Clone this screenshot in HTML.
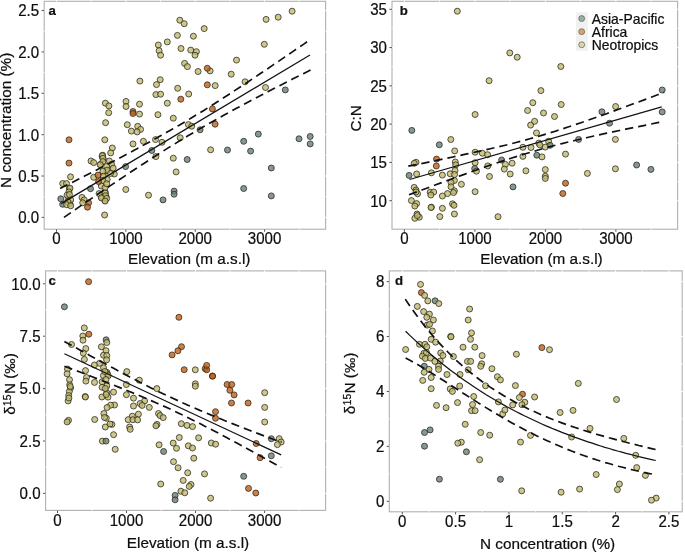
<!DOCTYPE html>
<html><head><meta charset="utf-8"><title>Figure</title>
<style>
html,body{margin:0;padding:0;background:#fff;overflow:hidden;}
svg{display:block;font-family:"Liberation Sans",sans-serif;}
text{stroke:#0d0d0d;stroke-width:0.22px;}
</style></head><body>
<svg width="685" height="553" viewBox="0 0 685 553">
<rect width="685" height="553" fill="#fff"/>
<rect x="44.2" y="1.3" width="281.4" height="227.9" fill="#fff" stroke="#b0b0b0" stroke-width="1.1"/>
<line x1="56.5" y1="0.30000000000000004" x2="56.5" y2="229.79999999999998" stroke="#fff" stroke-width="0.9"/>
<line x1="125.87" y1="0.30000000000000004" x2="125.87" y2="229.79999999999998" stroke="#fff" stroke-width="0.9"/>
<line x1="195.24" y1="0.30000000000000004" x2="195.24" y2="229.79999999999998" stroke="#fff" stroke-width="0.9"/>
<line x1="264.61" y1="0.30000000000000004" x2="264.61" y2="229.79999999999998" stroke="#fff" stroke-width="0.9"/>
<line x1="43.6" y1="217.4" x2="326.6" y2="217.4" stroke="#fff" stroke-width="0.9"/>
<line x1="43.6" y1="176.025" x2="326.6" y2="176.025" stroke="#fff" stroke-width="0.9"/>
<line x1="43.6" y1="134.65" x2="326.6" y2="134.65" stroke="#fff" stroke-width="0.9"/>
<line x1="43.6" y1="93.275" x2="326.6" y2="93.275" stroke="#fff" stroke-width="0.9"/>
<line x1="43.6" y1="51.900000000000006" x2="326.6" y2="51.900000000000006" stroke="#fff" stroke-width="0.9"/>
<line x1="43.6" y1="10.525000000000006" x2="326.6" y2="10.525000000000006" stroke="#fff" stroke-width="0.9"/>
<line x1="91.2" y1="0.30000000000000004" x2="91.2" y2="229.79999999999998" stroke="#fff" stroke-width="0.7"/>
<line x1="160.6" y1="0.30000000000000004" x2="160.6" y2="229.79999999999998" stroke="#fff" stroke-width="0.7"/>
<line x1="229.9" y1="0.30000000000000004" x2="229.9" y2="229.79999999999998" stroke="#fff" stroke-width="0.7"/>
<line x1="299.3" y1="0.30000000000000004" x2="299.3" y2="229.79999999999998" stroke="#fff" stroke-width="0.7"/>
<line x1="43.6" y1="196.7" x2="326.6" y2="196.7" stroke="#fff" stroke-width="0.7"/>
<line x1="43.6" y1="155.3" x2="326.6" y2="155.3" stroke="#fff" stroke-width="0.7"/>
<line x1="43.6" y1="114.0" x2="326.6" y2="114.0" stroke="#fff" stroke-width="0.7"/>
<line x1="43.6" y1="72.6" x2="326.6" y2="72.6" stroke="#fff" stroke-width="0.7"/>
<line x1="43.6" y1="31.2" x2="326.6" y2="31.2" stroke="#fff" stroke-width="0.7"/>
<line x1="56.5" y1="229.2" x2="56.5" y2="231.79999999999998" stroke="#444" stroke-width="0.9"/>
<text transform="translate(56.5 244.4) scale(0.92 1)" font-size="16.4" text-anchor="middle" fill="#0d0d0d">0</text>
<line x1="125.87" y1="229.2" x2="125.87" y2="231.79999999999998" stroke="#444" stroke-width="0.9"/>
<text transform="translate(125.9 244.4) scale(0.92 1)" font-size="16.4" text-anchor="middle" fill="#0d0d0d">1000</text>
<line x1="195.24" y1="229.2" x2="195.24" y2="231.79999999999998" stroke="#444" stroke-width="0.9"/>
<text transform="translate(195.2 244.4) scale(0.92 1)" font-size="16.4" text-anchor="middle" fill="#0d0d0d">2000</text>
<line x1="264.61" y1="229.2" x2="264.61" y2="231.79999999999998" stroke="#444" stroke-width="0.9"/>
<text transform="translate(264.6 244.4) scale(0.92 1)" font-size="16.4" text-anchor="middle" fill="#0d0d0d">3000</text>
<line x1="41.6" y1="217.4" x2="44.2" y2="217.4" stroke="#444" stroke-width="0.9"/>
<text transform="translate(39.2 223.2) scale(0.92 1)" font-size="16.4" text-anchor="end" fill="#0d0d0d">0.0</text>
<line x1="41.6" y1="176.025" x2="44.2" y2="176.025" stroke="#444" stroke-width="0.9"/>
<text transform="translate(39.2 181.8) scale(0.92 1)" font-size="16.4" text-anchor="end" fill="#0d0d0d">0.5</text>
<line x1="41.6" y1="134.65" x2="44.2" y2="134.65" stroke="#444" stroke-width="0.9"/>
<text transform="translate(39.2 140.5) scale(0.92 1)" font-size="16.4" text-anchor="end" fill="#0d0d0d">1.0</text>
<line x1="41.6" y1="93.275" x2="44.2" y2="93.275" stroke="#444" stroke-width="0.9"/>
<text transform="translate(39.2 99.1) scale(0.92 1)" font-size="16.4" text-anchor="end" fill="#0d0d0d">1.5</text>
<line x1="41.6" y1="51.900000000000006" x2="44.2" y2="51.900000000000006" stroke="#444" stroke-width="0.9"/>
<text transform="translate(39.2 57.7) scale(0.92 1)" font-size="16.4" text-anchor="end" fill="#0d0d0d">2.0</text>
<line x1="41.6" y1="10.525000000000006" x2="44.2" y2="10.525000000000006" stroke="#444" stroke-width="0.9"/>
<text transform="translate(39.2 16.3) scale(0.92 1)" font-size="16.4" text-anchor="end" fill="#0d0d0d">2.5</text>
<circle cx="179.8" cy="20.2" r="3.0" fill="#c2ba6f" fill-opacity="0.8" stroke="#26261c" stroke-opacity="0.85" stroke-width="0.9"/>
<circle cx="177.4" cy="35.4" r="3.0" fill="#c2ba6f" fill-opacity="0.8" stroke="#26261c" stroke-opacity="0.85" stroke-width="0.9"/>
<circle cx="167.3" cy="41.9" r="3.0" fill="#c2ba6f" fill-opacity="0.8" stroke="#26261c" stroke-opacity="0.85" stroke-width="0.9"/>
<circle cx="158.3" cy="45.0" r="3.0" fill="#c2ba6f" fill-opacity="0.8" stroke="#26261c" stroke-opacity="0.85" stroke-width="0.9"/>
<circle cx="159.1" cy="50.7" r="3.0" fill="#c2ba6f" fill-opacity="0.8" stroke="#26261c" stroke-opacity="0.85" stroke-width="0.9"/>
<circle cx="160.6" cy="55.2" r="3.0" fill="#c2ba6f" fill-opacity="0.8" stroke="#26261c" stroke-opacity="0.85" stroke-width="0.9"/>
<circle cx="181.0" cy="48.5" r="3.0" fill="#c2ba6f" fill-opacity="0.8" stroke="#26261c" stroke-opacity="0.85" stroke-width="0.9"/>
<circle cx="139.9" cy="81.1" r="3.0" fill="#c2ba6f" fill-opacity="0.8" stroke="#26261c" stroke-opacity="0.85" stroke-width="0.9"/>
<circle cx="160.2" cy="79.7" r="3.0" fill="#c2ba6f" fill-opacity="0.8" stroke="#26261c" stroke-opacity="0.85" stroke-width="0.9"/>
<circle cx="156.5" cy="84.6" r="3.0" fill="#c2ba6f" fill-opacity="0.8" stroke="#26261c" stroke-opacity="0.85" stroke-width="0.9"/>
<circle cx="177.7" cy="88.3" r="3.0" fill="#c2ba6f" fill-opacity="0.8" stroke="#26261c" stroke-opacity="0.85" stroke-width="0.9"/>
<circle cx="155.9" cy="94.6" r="3.0" fill="#c2ba6f" fill-opacity="0.8" stroke="#26261c" stroke-opacity="0.85" stroke-width="0.9"/>
<circle cx="160.6" cy="94.2" r="3.0" fill="#c2ba6f" fill-opacity="0.8" stroke="#26261c" stroke-opacity="0.85" stroke-width="0.9"/>
<circle cx="105.4" cy="103.2" r="3.0" fill="#c2ba6f" fill-opacity="0.8" stroke="#26261c" stroke-opacity="0.85" stroke-width="0.9"/>
<circle cx="108.9" cy="105.9" r="3.0" fill="#c2ba6f" fill-opacity="0.8" stroke="#26261c" stroke-opacity="0.85" stroke-width="0.9"/>
<circle cx="126.0" cy="101.4" r="3.0" fill="#c2ba6f" fill-opacity="0.8" stroke="#26261c" stroke-opacity="0.85" stroke-width="0.9"/>
<circle cx="126.0" cy="106.5" r="3.0" fill="#c2ba6f" fill-opacity="0.8" stroke="#26261c" stroke-opacity="0.85" stroke-width="0.9"/>
<circle cx="139.5" cy="104.2" r="3.0" fill="#c2ba6f" fill-opacity="0.8" stroke="#26261c" stroke-opacity="0.85" stroke-width="0.9"/>
<circle cx="167.3" cy="103.2" r="3.0" fill="#c2ba6f" fill-opacity="0.8" stroke="#26261c" stroke-opacity="0.85" stroke-width="0.9"/>
<circle cx="133.0" cy="111.5" r="3.0" fill="#c35f15" fill-opacity="0.8" stroke="#26261c" stroke-opacity="0.85" stroke-width="0.9"/>
<circle cx="133.0" cy="113.5" r="3.0" fill="#c35f15" fill-opacity="0.8" stroke="#26261c" stroke-opacity="0.85" stroke-width="0.9"/>
<circle cx="180.8" cy="99.2" r="3.0" fill="#c35f15" fill-opacity="0.8" stroke="#26261c" stroke-opacity="0.85" stroke-width="0.9"/>
<circle cx="184.2" cy="23.7" r="3.0" fill="#c2ba6f" fill-opacity="0.8" stroke="#26261c" stroke-opacity="0.85" stroke-width="0.9"/>
<circle cx="204.2" cy="28.6" r="3.0" fill="#c2ba6f" fill-opacity="0.8" stroke="#26261c" stroke-opacity="0.85" stroke-width="0.9"/>
<circle cx="193.4" cy="36.2" r="3.0" fill="#c2ba6f" fill-opacity="0.8" stroke="#26261c" stroke-opacity="0.85" stroke-width="0.9"/>
<circle cx="190.7" cy="50.1" r="3.0" fill="#c2ba6f" fill-opacity="0.8" stroke="#26261c" stroke-opacity="0.85" stroke-width="0.9"/>
<circle cx="196.4" cy="51.7" r="3.0" fill="#c2ba6f" fill-opacity="0.8" stroke="#26261c" stroke-opacity="0.85" stroke-width="0.9"/>
<circle cx="195.0" cy="55.2" r="3.0" fill="#c2ba6f" fill-opacity="0.8" stroke="#26261c" stroke-opacity="0.85" stroke-width="0.9"/>
<circle cx="184.6" cy="63.4" r="3.0" fill="#c2ba6f" fill-opacity="0.8" stroke="#26261c" stroke-opacity="0.85" stroke-width="0.9"/>
<circle cx="187.4" cy="66.6" r="3.0" fill="#c2ba6f" fill-opacity="0.8" stroke="#26261c" stroke-opacity="0.85" stroke-width="0.9"/>
<circle cx="198.1" cy="71.5" r="3.0" fill="#c2ba6f" fill-opacity="0.8" stroke="#26261c" stroke-opacity="0.85" stroke-width="0.9"/>
<circle cx="210.1" cy="70.9" r="3.0" fill="#c2ba6f" fill-opacity="0.8" stroke="#26261c" stroke-opacity="0.85" stroke-width="0.9"/>
<circle cx="207.3" cy="68.3" r="3.0" fill="#c35f15" fill-opacity="0.8" stroke="#26261c" stroke-opacity="0.85" stroke-width="0.9"/>
<circle cx="207.3" cy="84.8" r="3.0" fill="#c35f15" fill-opacity="0.8" stroke="#26261c" stroke-opacity="0.85" stroke-width="0.9"/>
<circle cx="215.2" cy="85.6" r="3.0" fill="#c2ba6f" fill-opacity="0.8" stroke="#26261c" stroke-opacity="0.85" stroke-width="0.9"/>
<circle cx="188.7" cy="94.0" r="3.0" fill="#c2ba6f" fill-opacity="0.8" stroke="#26261c" stroke-opacity="0.85" stroke-width="0.9"/>
<circle cx="212.4" cy="108.9" r="3.0" fill="#c35f15" fill-opacity="0.8" stroke="#26261c" stroke-opacity="0.85" stroke-width="0.9"/>
<circle cx="236.5" cy="60.1" r="3.0" fill="#c2ba6f" fill-opacity="0.8" stroke="#26261c" stroke-opacity="0.85" stroke-width="0.9"/>
<circle cx="231.2" cy="74.2" r="3.0" fill="#c2ba6f" fill-opacity="0.8" stroke="#26261c" stroke-opacity="0.85" stroke-width="0.9"/>
<circle cx="245.1" cy="81.8" r="3.0" fill="#c2ba6f" fill-opacity="0.8" stroke="#26261c" stroke-opacity="0.85" stroke-width="0.9"/>
<circle cx="264.3" cy="44.3" r="3.0" fill="#c2ba6f" fill-opacity="0.8" stroke="#26261c" stroke-opacity="0.85" stroke-width="0.9"/>
<circle cx="266.1" cy="19.4" r="3.0" fill="#c2ba6f" fill-opacity="0.8" stroke="#26261c" stroke-opacity="0.85" stroke-width="0.9"/>
<circle cx="278.2" cy="17.2" r="3.0" fill="#c2ba6f" fill-opacity="0.8" stroke="#26261c" stroke-opacity="0.85" stroke-width="0.9"/>
<circle cx="292.1" cy="11.2" r="3.0" fill="#c2ba6f" fill-opacity="0.8" stroke="#26261c" stroke-opacity="0.85" stroke-width="0.9"/>
<circle cx="265.5" cy="87.5" r="3.0" fill="#c2ba6f" fill-opacity="0.8" stroke="#26261c" stroke-opacity="0.85" stroke-width="0.9"/>
<circle cx="285.3" cy="89.9" r="3.0" fill="#687f75" fill-opacity="0.8" stroke="#26261c" stroke-opacity="0.85" stroke-width="0.9"/>
<circle cx="108.7" cy="112.7" r="3.0" fill="#c2ba6f" fill-opacity="0.8" stroke="#26261c" stroke-opacity="0.85" stroke-width="0.9"/>
<circle cx="139.5" cy="114.1" r="3.0" fill="#c2ba6f" fill-opacity="0.8" stroke="#26261c" stroke-opacity="0.85" stroke-width="0.9"/>
<circle cx="157.9" cy="114.7" r="3.0" fill="#c2ba6f" fill-opacity="0.8" stroke="#26261c" stroke-opacity="0.85" stroke-width="0.9"/>
<circle cx="173.3" cy="118.2" r="3.0" fill="#c2ba6f" fill-opacity="0.8" stroke="#26261c" stroke-opacity="0.85" stroke-width="0.9"/>
<circle cx="105.6" cy="122.7" r="3.0" fill="#c2ba6f" fill-opacity="0.8" stroke="#26261c" stroke-opacity="0.85" stroke-width="0.9"/>
<circle cx="127.3" cy="124.7" r="3.0" fill="#c2ba6f" fill-opacity="0.8" stroke="#26261c" stroke-opacity="0.85" stroke-width="0.9"/>
<circle cx="137.7" cy="126.3" r="3.0" fill="#c2ba6f" fill-opacity="0.8" stroke="#26261c" stroke-opacity="0.85" stroke-width="0.9"/>
<circle cx="140.6" cy="129.4" r="3.0" fill="#c2ba6f" fill-opacity="0.8" stroke="#26261c" stroke-opacity="0.85" stroke-width="0.9"/>
<circle cx="131.4" cy="131.1" r="3.0" fill="#c2ba6f" fill-opacity="0.8" stroke="#26261c" stroke-opacity="0.85" stroke-width="0.9"/>
<circle cx="137.1" cy="131.9" r="3.0" fill="#c2ba6f" fill-opacity="0.8" stroke="#26261c" stroke-opacity="0.85" stroke-width="0.9"/>
<circle cx="180.2" cy="137.8" r="3.0" fill="#c2ba6f" fill-opacity="0.8" stroke="#26261c" stroke-opacity="0.85" stroke-width="0.9"/>
<circle cx="69.0" cy="139.8" r="3.0" fill="#c35f15" fill-opacity="0.8" stroke="#26261c" stroke-opacity="0.85" stroke-width="0.9"/>
<circle cx="104.8" cy="139.8" r="3.0" fill="#c2ba6f" fill-opacity="0.8" stroke="#26261c" stroke-opacity="0.85" stroke-width="0.9"/>
<circle cx="143.4" cy="141.3" r="3.0" fill="#c2ba6f" fill-opacity="0.8" stroke="#26261c" stroke-opacity="0.85" stroke-width="0.9"/>
<circle cx="155.5" cy="139.6" r="3.0" fill="#c2ba6f" fill-opacity="0.8" stroke="#26261c" stroke-opacity="0.85" stroke-width="0.9"/>
<circle cx="162.0" cy="142.3" r="3.0" fill="#c2ba6f" fill-opacity="0.8" stroke="#26261c" stroke-opacity="0.85" stroke-width="0.9"/>
<circle cx="133.0" cy="143.9" r="3.0" fill="#c2ba6f" fill-opacity="0.8" stroke="#26261c" stroke-opacity="0.85" stroke-width="0.9"/>
<circle cx="112.3" cy="148.0" r="3.0" fill="#c2ba6f" fill-opacity="0.8" stroke="#26261c" stroke-opacity="0.85" stroke-width="0.9"/>
<circle cx="110.7" cy="152.9" r="3.0" fill="#c2ba6f" fill-opacity="0.8" stroke="#26261c" stroke-opacity="0.85" stroke-width="0.9"/>
<circle cx="151.8" cy="150.5" r="3.0" fill="#687f75" fill-opacity="0.8" stroke="#26261c" stroke-opacity="0.85" stroke-width="0.9"/>
<circle cx="155.9" cy="156.6" r="3.0" fill="#c2ba6f" fill-opacity="0.8" stroke="#26261c" stroke-opacity="0.85" stroke-width="0.9"/>
<circle cx="173.3" cy="158.2" r="3.0" fill="#c2ba6f" fill-opacity="0.8" stroke="#26261c" stroke-opacity="0.85" stroke-width="0.9"/>
<circle cx="69.0" cy="163.1" r="3.0" fill="#c35f15" fill-opacity="0.8" stroke="#26261c" stroke-opacity="0.85" stroke-width="0.9"/>
<circle cx="125.6" cy="166.6" r="3.0" fill="#687f75" fill-opacity="0.8" stroke="#26261c" stroke-opacity="0.85" stroke-width="0.9"/>
<circle cx="176.1" cy="171.9" r="3.0" fill="#c2ba6f" fill-opacity="0.8" stroke="#26261c" stroke-opacity="0.85" stroke-width="0.9"/>
<circle cx="125.8" cy="189.5" r="3.0" fill="#c2ba6f" fill-opacity="0.8" stroke="#26261c" stroke-opacity="0.85" stroke-width="0.9"/>
<circle cx="148.5" cy="195.2" r="3.0" fill="#c2ba6f" fill-opacity="0.8" stroke="#26261c" stroke-opacity="0.85" stroke-width="0.9"/>
<circle cx="163.0" cy="199.9" r="3.0" fill="#687f75" fill-opacity="0.8" stroke="#26261c" stroke-opacity="0.85" stroke-width="0.9"/>
<circle cx="174.1" cy="191.1" r="3.0" fill="#687f75" fill-opacity="0.8" stroke="#26261c" stroke-opacity="0.85" stroke-width="0.9"/>
<circle cx="174.1" cy="194.2" r="3.0" fill="#687f75" fill-opacity="0.8" stroke="#26261c" stroke-opacity="0.85" stroke-width="0.9"/>
<circle cx="104.6" cy="215.0" r="3.0" fill="#c2ba6f" fill-opacity="0.8" stroke="#26261c" stroke-opacity="0.85" stroke-width="0.9"/>
<circle cx="90.5" cy="188.7" r="3.0" fill="#687f75" fill-opacity="0.8" stroke="#26261c" stroke-opacity="0.85" stroke-width="0.9"/>
<circle cx="69.3" cy="189.0" r="3.0" fill="#c2ba6f" fill-opacity="0.8" stroke="#26261c" stroke-opacity="0.85" stroke-width="0.9"/>
<circle cx="68.3" cy="196.5" r="3.0" fill="#c2ba6f" fill-opacity="0.8" stroke="#26261c" stroke-opacity="0.85" stroke-width="0.9"/>
<circle cx="67.6" cy="201.5" r="3.0" fill="#c2ba6f" fill-opacity="0.8" stroke="#26261c" stroke-opacity="0.85" stroke-width="0.9"/>
<circle cx="69.9" cy="203.6" r="3.0" fill="#c2ba6f" fill-opacity="0.8" stroke="#26261c" stroke-opacity="0.85" stroke-width="0.9"/>
<circle cx="60.8" cy="198.8" r="3.0" fill="#687f75" fill-opacity="0.8" stroke="#26261c" stroke-opacity="0.85" stroke-width="0.9"/>
<circle cx="62.7" cy="204.3" r="3.0" fill="#687f75" fill-opacity="0.8" stroke="#26261c" stroke-opacity="0.85" stroke-width="0.9"/>
<circle cx="70.5" cy="176.8" r="3.0" fill="#c2ba6f" fill-opacity="0.8" stroke="#26261c" stroke-opacity="0.85" stroke-width="0.9"/>
<circle cx="62.7" cy="183.5" r="3.0" fill="#c2ba6f" fill-opacity="0.8" stroke="#26261c" stroke-opacity="0.85" stroke-width="0.9"/>
<circle cx="66.5" cy="183.5" r="3.0" fill="#c2ba6f" fill-opacity="0.8" stroke="#26261c" stroke-opacity="0.85" stroke-width="0.9"/>
<circle cx="70.0" cy="188.2" r="3.0" fill="#c2ba6f" fill-opacity="0.8" stroke="#26261c" stroke-opacity="0.85" stroke-width="0.9"/>
<circle cx="68.9" cy="191.9" r="3.0" fill="#c2ba6f" fill-opacity="0.8" stroke="#26261c" stroke-opacity="0.85" stroke-width="0.9"/>
<circle cx="67.0" cy="195.2" r="3.0" fill="#c2ba6f" fill-opacity="0.8" stroke="#26261c" stroke-opacity="0.85" stroke-width="0.9"/>
<circle cx="70.7" cy="199.9" r="3.0" fill="#c2ba6f" fill-opacity="0.8" stroke="#26261c" stroke-opacity="0.85" stroke-width="0.9"/>
<circle cx="68.1" cy="202.1" r="3.0" fill="#c2ba6f" fill-opacity="0.8" stroke="#26261c" stroke-opacity="0.85" stroke-width="0.9"/>
<circle cx="66.7" cy="204.7" r="3.0" fill="#c2ba6f" fill-opacity="0.8" stroke="#26261c" stroke-opacity="0.85" stroke-width="0.9"/>
<circle cx="70.7" cy="205.8" r="3.0" fill="#c2ba6f" fill-opacity="0.8" stroke="#26261c" stroke-opacity="0.85" stroke-width="0.9"/>
<circle cx="69.5" cy="194.5" r="3.0" fill="#c2ba6f" fill-opacity="0.8" stroke="#26261c" stroke-opacity="0.85" stroke-width="0.9"/>
<circle cx="82.0" cy="197.4" r="3.0" fill="#c2ba6f" fill-opacity="0.8" stroke="#26261c" stroke-opacity="0.85" stroke-width="0.9"/>
<circle cx="84.2" cy="199.9" r="3.0" fill="#c2ba6f" fill-opacity="0.8" stroke="#26261c" stroke-opacity="0.85" stroke-width="0.9"/>
<circle cx="82.7" cy="202.8" r="3.0" fill="#c2ba6f" fill-opacity="0.8" stroke="#26261c" stroke-opacity="0.85" stroke-width="0.9"/>
<circle cx="88.6" cy="202.8" r="3.0" fill="#c35f15" fill-opacity="0.8" stroke="#26261c" stroke-opacity="0.85" stroke-width="0.9"/>
<circle cx="87.5" cy="207.2" r="3.0" fill="#c35f15" fill-opacity="0.8" stroke="#26261c" stroke-opacity="0.85" stroke-width="0.9"/>
<circle cx="102.6" cy="155.2" r="3.0" fill="#c2ba6f" fill-opacity="0.8" stroke="#26261c" stroke-opacity="0.85" stroke-width="0.9"/>
<circle cx="102.2" cy="156.3" r="3.0" fill="#c2ba6f" fill-opacity="0.8" stroke="#26261c" stroke-opacity="0.85" stroke-width="0.9"/>
<circle cx="103.2" cy="158.8" r="3.0" fill="#c2ba6f" fill-opacity="0.8" stroke="#26261c" stroke-opacity="0.85" stroke-width="0.9"/>
<circle cx="100.6" cy="164.3" r="3.0" fill="#c2ba6f" fill-opacity="0.8" stroke="#26261c" stroke-opacity="0.85" stroke-width="0.9"/>
<circle cx="105.3" cy="192.4" r="3.0" fill="#c2ba6f" fill-opacity="0.8" stroke="#26261c" stroke-opacity="0.85" stroke-width="0.9"/>
<circle cx="105.9" cy="196.3" r="3.0" fill="#c2ba6f" fill-opacity="0.8" stroke="#26261c" stroke-opacity="0.85" stroke-width="0.9"/>
<circle cx="104.8" cy="200.4" r="3.0" fill="#c2ba6f" fill-opacity="0.8" stroke="#26261c" stroke-opacity="0.85" stroke-width="0.9"/>
<circle cx="102.0" cy="197.2" r="3.0" fill="#c2ba6f" fill-opacity="0.8" stroke="#26261c" stroke-opacity="0.85" stroke-width="0.9"/>
<circle cx="106.9" cy="170.8" r="3.0" fill="#c2ba6f" fill-opacity="0.8" stroke="#26261c" stroke-opacity="0.85" stroke-width="0.9"/>
<circle cx="103.3" cy="176.8" r="3.0" fill="#c2ba6f" fill-opacity="0.8" stroke="#26261c" stroke-opacity="0.85" stroke-width="0.9"/>
<circle cx="102.4" cy="155.6" r="3.0" fill="#c2ba6f" fill-opacity="0.8" stroke="#26261c" stroke-opacity="0.85" stroke-width="0.9"/>
<circle cx="102.9" cy="158.3" r="3.0" fill="#c2ba6f" fill-opacity="0.8" stroke="#26261c" stroke-opacity="0.85" stroke-width="0.9"/>
<circle cx="91.0" cy="161.0" r="3.0" fill="#c2ba6f" fill-opacity="0.8" stroke="#26261c" stroke-opacity="0.85" stroke-width="0.9"/>
<circle cx="93.7" cy="162.6" r="3.0" fill="#c2ba6f" fill-opacity="0.8" stroke="#26261c" stroke-opacity="0.85" stroke-width="0.9"/>
<circle cx="102.9" cy="161.6" r="3.0" fill="#c2ba6f" fill-opacity="0.8" stroke="#26261c" stroke-opacity="0.85" stroke-width="0.9"/>
<circle cx="109.4" cy="161.0" r="3.0" fill="#c2ba6f" fill-opacity="0.8" stroke="#26261c" stroke-opacity="0.85" stroke-width="0.9"/>
<circle cx="100.2" cy="164.8" r="3.0" fill="#c2ba6f" fill-opacity="0.8" stroke="#26261c" stroke-opacity="0.85" stroke-width="0.9"/>
<circle cx="111.6" cy="164.3" r="3.0" fill="#c2ba6f" fill-opacity="0.8" stroke="#26261c" stroke-opacity="0.85" stroke-width="0.9"/>
<circle cx="106.7" cy="166.4" r="3.0" fill="#c2ba6f" fill-opacity="0.8" stroke="#26261c" stroke-opacity="0.85" stroke-width="0.9"/>
<circle cx="113.2" cy="168.1" r="3.0" fill="#c2ba6f" fill-opacity="0.8" stroke="#26261c" stroke-opacity="0.85" stroke-width="0.9"/>
<circle cx="107.2" cy="170.2" r="3.0" fill="#c2ba6f" fill-opacity="0.8" stroke="#26261c" stroke-opacity="0.85" stroke-width="0.9"/>
<circle cx="102.9" cy="171.3" r="3.0" fill="#c2ba6f" fill-opacity="0.8" stroke="#26261c" stroke-opacity="0.85" stroke-width="0.9"/>
<circle cx="114.3" cy="174.0" r="3.0" fill="#c2ba6f" fill-opacity="0.8" stroke="#26261c" stroke-opacity="0.85" stroke-width="0.9"/>
<circle cx="110.5" cy="173.5" r="3.0" fill="#c2ba6f" fill-opacity="0.8" stroke="#26261c" stroke-opacity="0.85" stroke-width="0.9"/>
<circle cx="93.7" cy="177.3" r="3.0" fill="#c2ba6f" fill-opacity="0.8" stroke="#26261c" stroke-opacity="0.85" stroke-width="0.9"/>
<circle cx="103.4" cy="176.2" r="3.0" fill="#c2ba6f" fill-opacity="0.8" stroke="#26261c" stroke-opacity="0.85" stroke-width="0.9"/>
<circle cx="107.2" cy="179.5" r="3.0" fill="#c2ba6f" fill-opacity="0.8" stroke="#26261c" stroke-opacity="0.85" stroke-width="0.9"/>
<circle cx="102.9" cy="180.5" r="3.0" fill="#c2ba6f" fill-opacity="0.8" stroke="#26261c" stroke-opacity="0.85" stroke-width="0.9"/>
<circle cx="101.3" cy="186.0" r="3.0" fill="#c2ba6f" fill-opacity="0.8" stroke="#26261c" stroke-opacity="0.85" stroke-width="0.9"/>
<circle cx="105.1" cy="187.6" r="3.0" fill="#c2ba6f" fill-opacity="0.8" stroke="#26261c" stroke-opacity="0.85" stroke-width="0.9"/>
<circle cx="106.7" cy="183.8" r="3.0" fill="#c2ba6f" fill-opacity="0.8" stroke="#26261c" stroke-opacity="0.85" stroke-width="0.9"/>
<circle cx="99.1" cy="193.6" r="3.0" fill="#c2ba6f" fill-opacity="0.8" stroke="#26261c" stroke-opacity="0.85" stroke-width="0.9"/>
<circle cx="105.1" cy="193.0" r="3.0" fill="#c2ba6f" fill-opacity="0.8" stroke="#26261c" stroke-opacity="0.85" stroke-width="0.9"/>
<circle cx="105.6" cy="195.7" r="3.0" fill="#c2ba6f" fill-opacity="0.8" stroke="#26261c" stroke-opacity="0.85" stroke-width="0.9"/>
<circle cx="101.3" cy="197.9" r="3.0" fill="#c2ba6f" fill-opacity="0.8" stroke="#26261c" stroke-opacity="0.85" stroke-width="0.9"/>
<circle cx="106.7" cy="198.4" r="3.0" fill="#c2ba6f" fill-opacity="0.8" stroke="#26261c" stroke-opacity="0.85" stroke-width="0.9"/>
<circle cx="105.1" cy="201.1" r="3.0" fill="#c2ba6f" fill-opacity="0.8" stroke="#26261c" stroke-opacity="0.85" stroke-width="0.9"/>
<circle cx="98.0" cy="175.1" r="3.0" fill="#c35f15" fill-opacity="0.8" stroke="#26261c" stroke-opacity="0.85" stroke-width="0.9"/>
<circle cx="98.6" cy="181.6" r="3.0" fill="#c35f15" fill-opacity="0.8" stroke="#26261c" stroke-opacity="0.85" stroke-width="0.9"/>
<circle cx="215.1" cy="124.2" r="3.0" fill="#c35f15" fill-opacity="0.8" stroke="#26261c" stroke-opacity="0.85" stroke-width="0.9"/>
<circle cx="188.4" cy="124.6" r="3.0" fill="#c2ba6f" fill-opacity="0.8" stroke="#26261c" stroke-opacity="0.85" stroke-width="0.9"/>
<circle cx="191.7" cy="126.2" r="3.0" fill="#c2ba6f" fill-opacity="0.8" stroke="#26261c" stroke-opacity="0.85" stroke-width="0.9"/>
<circle cx="200.1" cy="129.8" r="3.0" fill="#687f75" fill-opacity="0.8" stroke="#26261c" stroke-opacity="0.85" stroke-width="0.9"/>
<circle cx="258.3" cy="134.1" r="3.0" fill="#687f75" fill-opacity="0.8" stroke="#26261c" stroke-opacity="0.85" stroke-width="0.9"/>
<circle cx="243.7" cy="141.3" r="3.0" fill="#687f75" fill-opacity="0.8" stroke="#26261c" stroke-opacity="0.85" stroke-width="0.9"/>
<circle cx="299.0" cy="138.8" r="3.0" fill="#687f75" fill-opacity="0.8" stroke="#26261c" stroke-opacity="0.85" stroke-width="0.9"/>
<circle cx="310.2" cy="136.5" r="3.0" fill="#687f75" fill-opacity="0.8" stroke="#26261c" stroke-opacity="0.85" stroke-width="0.9"/>
<circle cx="310.2" cy="143.9" r="3.0" fill="#687f75" fill-opacity="0.8" stroke="#26261c" stroke-opacity="0.85" stroke-width="0.9"/>
<circle cx="210.6" cy="149.8" r="3.0" fill="#c2ba6f" fill-opacity="0.8" stroke="#26261c" stroke-opacity="0.85" stroke-width="0.9"/>
<circle cx="227.5" cy="150.0" r="3.0" fill="#687f75" fill-opacity="0.8" stroke="#26261c" stroke-opacity="0.85" stroke-width="0.9"/>
<circle cx="250.6" cy="151.1" r="3.0" fill="#687f75" fill-opacity="0.8" stroke="#26261c" stroke-opacity="0.85" stroke-width="0.9"/>
<circle cx="187.2" cy="159.5" r="3.0" fill="#687f75" fill-opacity="0.8" stroke="#26261c" stroke-opacity="0.85" stroke-width="0.9"/>
<circle cx="271.3" cy="168.0" r="3.0" fill="#687f75" fill-opacity="0.8" stroke="#26261c" stroke-opacity="0.85" stroke-width="0.9"/>
<circle cx="243.7" cy="188.5" r="3.0" fill="#687f75" fill-opacity="0.8" stroke="#26261c" stroke-opacity="0.85" stroke-width="0.9"/>
<circle cx="271.3" cy="195.9" r="3.0" fill="#687f75" fill-opacity="0.8" stroke="#26261c" stroke-opacity="0.85" stroke-width="0.9"/>
<path d="M61.2 203.6 L310.0 55.0" fill="none" stroke="#111" stroke-width="1.25"/>
<path d="M60.1 188.5 L66.3 185.3 L72.6 182.2 L78.8 179.0 L85.1 175.8 L91.3 172.6 L97.6 169.4 L103.8 166.2 L110.1 162.9 L116.3 159.7 L122.6 156.4 L128.8 153.1 L135.1 149.8 L141.3 146.4 L147.6 143.0 L153.8 139.6 L160.1 136.1 L166.3 132.6 L172.6 129.0 L178.8 125.4 L185.1 121.7 L191.3 118.0 L197.5 114.2 L203.8 110.4 L210.0 106.5 L216.3 102.5 L222.5 98.5 L228.8 94.5 L235.0 90.4 L241.3 86.3 L247.5 82.2 L253.8 78.0 L260.0 73.8 L266.3 69.6 L272.5 65.4 L278.8 61.1 L285.0 56.9 L291.3 52.6 L297.5 48.3 L303.8 44.1 L310.0 39.8" fill="none" stroke="#111" stroke-width="1.7" stroke-dasharray="8.3 5"/>
<path d="M64.0 217.4 L70.2 213.1 L76.3 208.9 L82.5 204.6 L88.7 200.4 L94.9 196.2 L101.0 192.0 L107.2 187.8 L113.4 183.6 L119.6 179.5 L125.8 175.4 L131.9 171.3 L138.1 167.2 L144.3 163.2 L150.4 159.2 L156.6 155.2 L162.8 151.3 L169.0 147.4 L175.2 143.6 L181.3 139.8 L187.5 136.1 L193.7 132.4 L199.8 128.8 L206.0 125.2 L212.2 121.7 L218.4 118.3 L224.6 114.8 L230.7 111.5 L236.9 108.1 L243.1 104.8 L249.2 101.5 L255.4 98.3 L261.6 95.1 L267.8 91.8 L273.9 88.6 L280.1 85.5 L286.3 82.3 L292.5 79.1 L298.6 76.0 L304.8 72.9 L311.0 69.7" fill="none" stroke="#111" stroke-width="1.7" stroke-dasharray="8.3 5"/>
<text x="48.5" y="14.9" font-size="13.2" font-family="Liberation Sans, sans-serif" font-weight="700" fill="#111">a</text>
<text x="189.2" y="264.3" font-size="15.3" text-anchor="middle" fill="#0d0d0d">Elevation (m a.s.l)</text>
<text transform="translate(11.4,120.3) rotate(-90)" font-size="15.3" text-anchor="middle" fill="#0d0d0d">N concentration (%)</text>
<rect x="392.0" y="1.3" width="285.6" height="227.9" fill="#fff" stroke="#b0b0b0" stroke-width="1.1"/>
<line x1="404.4" y1="0.30000000000000004" x2="404.4" y2="229.79999999999998" stroke="#fff" stroke-width="0.9"/>
<line x1="474.9" y1="0.30000000000000004" x2="474.9" y2="229.79999999999998" stroke="#fff" stroke-width="0.9"/>
<line x1="545.4" y1="0.30000000000000004" x2="545.4" y2="229.79999999999998" stroke="#fff" stroke-width="0.9"/>
<line x1="615.9" y1="0.30000000000000004" x2="615.9" y2="229.79999999999998" stroke="#fff" stroke-width="0.9"/>
<line x1="391.4" y1="200.7" x2="678.6" y2="200.7" stroke="#fff" stroke-width="0.9"/>
<line x1="391.4" y1="162.42" x2="678.6" y2="162.42" stroke="#fff" stroke-width="0.9"/>
<line x1="391.4" y1="124.13999999999999" x2="678.6" y2="124.13999999999999" stroke="#fff" stroke-width="0.9"/>
<line x1="391.4" y1="85.86" x2="678.6" y2="85.86" stroke="#fff" stroke-width="0.9"/>
<line x1="391.4" y1="47.579999999999984" x2="678.6" y2="47.579999999999984" stroke="#fff" stroke-width="0.9"/>
<line x1="391.4" y1="9.299999999999983" x2="678.6" y2="9.299999999999983" stroke="#fff" stroke-width="0.9"/>
<line x1="439.6" y1="0.30000000000000004" x2="439.6" y2="229.79999999999998" stroke="#fff" stroke-width="0.7"/>
<line x1="510.1" y1="0.30000000000000004" x2="510.1" y2="229.79999999999998" stroke="#fff" stroke-width="0.7"/>
<line x1="580.6" y1="0.30000000000000004" x2="580.6" y2="229.79999999999998" stroke="#fff" stroke-width="0.7"/>
<line x1="651.1" y1="0.30000000000000004" x2="651.1" y2="229.79999999999998" stroke="#fff" stroke-width="0.7"/>
<line x1="391.4" y1="181.6" x2="678.6" y2="181.6" stroke="#fff" stroke-width="0.7"/>
<line x1="391.4" y1="143.3" x2="678.6" y2="143.3" stroke="#fff" stroke-width="0.7"/>
<line x1="391.4" y1="105.0" x2="678.6" y2="105.0" stroke="#fff" stroke-width="0.7"/>
<line x1="391.4" y1="66.7" x2="678.6" y2="66.7" stroke="#fff" stroke-width="0.7"/>
<line x1="391.4" y1="28.4" x2="678.6" y2="28.4" stroke="#fff" stroke-width="0.7"/>
<line x1="404.4" y1="229.2" x2="404.4" y2="231.79999999999998" stroke="#444" stroke-width="0.9"/>
<text transform="translate(404.4 244.4) scale(0.92 1)" font-size="16.4" text-anchor="middle" fill="#0d0d0d">0</text>
<line x1="474.9" y1="229.2" x2="474.9" y2="231.79999999999998" stroke="#444" stroke-width="0.9"/>
<text transform="translate(474.9 244.4) scale(0.92 1)" font-size="16.4" text-anchor="middle" fill="#0d0d0d">1000</text>
<line x1="545.4" y1="229.2" x2="545.4" y2="231.79999999999998" stroke="#444" stroke-width="0.9"/>
<text transform="translate(545.4 244.4) scale(0.92 1)" font-size="16.4" text-anchor="middle" fill="#0d0d0d">2000</text>
<line x1="615.9" y1="229.2" x2="615.9" y2="231.79999999999998" stroke="#444" stroke-width="0.9"/>
<text transform="translate(615.9 244.4) scale(0.92 1)" font-size="16.4" text-anchor="middle" fill="#0d0d0d">3000</text>
<line x1="389.4" y1="200.7" x2="392.0" y2="200.7" stroke="#444" stroke-width="0.9"/>
<text transform="translate(387.0 206.5) scale(0.92 1)" font-size="16.4" text-anchor="end" fill="#0d0d0d">10</text>
<line x1="389.4" y1="162.42" x2="392.0" y2="162.42" stroke="#444" stroke-width="0.9"/>
<text transform="translate(387.0 168.2) scale(0.92 1)" font-size="16.4" text-anchor="end" fill="#0d0d0d">15</text>
<line x1="389.4" y1="124.13999999999999" x2="392.0" y2="124.13999999999999" stroke="#444" stroke-width="0.9"/>
<text transform="translate(387.0 129.9) scale(0.92 1)" font-size="16.4" text-anchor="end" fill="#0d0d0d">20</text>
<line x1="389.4" y1="85.86" x2="392.0" y2="85.86" stroke="#444" stroke-width="0.9"/>
<text transform="translate(387.0 91.7) scale(0.92 1)" font-size="16.4" text-anchor="end" fill="#0d0d0d">25</text>
<line x1="389.4" y1="47.579999999999984" x2="392.0" y2="47.579999999999984" stroke="#444" stroke-width="0.9"/>
<text transform="translate(387.0 53.4) scale(0.92 1)" font-size="16.4" text-anchor="end" fill="#0d0d0d">30</text>
<line x1="389.4" y1="9.299999999999983" x2="392.0" y2="9.299999999999983" stroke="#444" stroke-width="0.9"/>
<text transform="translate(387.0 15.1) scale(0.92 1)" font-size="16.4" text-anchor="end" fill="#0d0d0d">35</text>
<circle cx="457.3" cy="11.2" r="3.0" fill="#c2ba6f" fill-opacity="0.8" stroke="#26261c" stroke-opacity="0.85" stroke-width="0.9"/>
<circle cx="509.8" cy="52.9" r="3.0" fill="#c2ba6f" fill-opacity="0.8" stroke="#26261c" stroke-opacity="0.85" stroke-width="0.9"/>
<circle cx="517.2" cy="57.2" r="3.0" fill="#c2ba6f" fill-opacity="0.8" stroke="#26261c" stroke-opacity="0.85" stroke-width="0.9"/>
<circle cx="489.1" cy="80.7" r="3.0" fill="#c2ba6f" fill-opacity="0.8" stroke="#26261c" stroke-opacity="0.85" stroke-width="0.9"/>
<circle cx="532.8" cy="102.7" r="3.0" fill="#c2ba6f" fill-opacity="0.8" stroke="#26261c" stroke-opacity="0.85" stroke-width="0.9"/>
<circle cx="527.6" cy="110.5" r="3.0" fill="#c2ba6f" fill-opacity="0.8" stroke="#26261c" stroke-opacity="0.85" stroke-width="0.9"/>
<circle cx="475.1" cy="114.5" r="3.0" fill="#c2ba6f" fill-opacity="0.8" stroke="#26261c" stroke-opacity="0.85" stroke-width="0.9"/>
<circle cx="560.8" cy="66.5" r="3.0" fill="#c2ba6f" fill-opacity="0.8" stroke="#26261c" stroke-opacity="0.85" stroke-width="0.9"/>
<circle cx="540.9" cy="90.6" r="3.0" fill="#c2ba6f" fill-opacity="0.8" stroke="#26261c" stroke-opacity="0.85" stroke-width="0.9"/>
<circle cx="561.2" cy="104.5" r="3.0" fill="#c2ba6f" fill-opacity="0.8" stroke="#26261c" stroke-opacity="0.85" stroke-width="0.9"/>
<circle cx="543.5" cy="113.0" r="3.0" fill="#c2ba6f" fill-opacity="0.8" stroke="#26261c" stroke-opacity="0.85" stroke-width="0.9"/>
<circle cx="554.5" cy="116.5" r="3.0" fill="#c2ba6f" fill-opacity="0.8" stroke="#26261c" stroke-opacity="0.85" stroke-width="0.9"/>
<circle cx="615.6" cy="106.5" r="3.0" fill="#c2ba6f" fill-opacity="0.8" stroke="#26261c" stroke-opacity="0.85" stroke-width="0.9"/>
<circle cx="601.9" cy="111.8" r="3.0" fill="#687f75" fill-opacity="0.8" stroke="#26261c" stroke-opacity="0.85" stroke-width="0.9"/>
<circle cx="662.2" cy="90.0" r="3.0" fill="#687f75" fill-opacity="0.8" stroke="#26261c" stroke-opacity="0.85" stroke-width="0.9"/>
<circle cx="662.2" cy="111.9" r="3.0" fill="#687f75" fill-opacity="0.8" stroke="#26261c" stroke-opacity="0.85" stroke-width="0.9"/>
<circle cx="411.8" cy="130.4" r="3.0" fill="#687f75" fill-opacity="0.8" stroke="#26261c" stroke-opacity="0.85" stroke-width="0.9"/>
<circle cx="450.8" cy="139.5" r="3.0" fill="#c2ba6f" fill-opacity="0.8" stroke="#26261c" stroke-opacity="0.85" stroke-width="0.9"/>
<circle cx="439.3" cy="144.8" r="3.0" fill="#687f75" fill-opacity="0.8" stroke="#26261c" stroke-opacity="0.85" stroke-width="0.9"/>
<circle cx="454.7" cy="150.9" r="3.0" fill="#c2ba6f" fill-opacity="0.8" stroke="#26261c" stroke-opacity="0.85" stroke-width="0.9"/>
<circle cx="475.1" cy="152.2" r="3.0" fill="#c2ba6f" fill-opacity="0.8" stroke="#26261c" stroke-opacity="0.85" stroke-width="0.9"/>
<circle cx="482.3" cy="153.2" r="3.0" fill="#c2ba6f" fill-opacity="0.8" stroke="#26261c" stroke-opacity="0.85" stroke-width="0.9"/>
<circle cx="487.6" cy="154.7" r="3.0" fill="#c2ba6f" fill-opacity="0.8" stroke="#26261c" stroke-opacity="0.85" stroke-width="0.9"/>
<circle cx="436.5" cy="159.1" r="3.0" fill="#c35f15" fill-opacity="0.8" stroke="#26261c" stroke-opacity="0.85" stroke-width="0.9"/>
<circle cx="436.3" cy="166.0" r="3.0" fill="#c35f15" fill-opacity="0.8" stroke="#26261c" stroke-opacity="0.85" stroke-width="0.9"/>
<circle cx="416.0" cy="162.3" r="3.0" fill="#c2ba6f" fill-opacity="0.8" stroke="#26261c" stroke-opacity="0.85" stroke-width="0.9"/>
<circle cx="414.2" cy="163.3" r="3.0" fill="#c2ba6f" fill-opacity="0.8" stroke="#26261c" stroke-opacity="0.85" stroke-width="0.9"/>
<circle cx="455.3" cy="162.0" r="3.0" fill="#c2ba6f" fill-opacity="0.8" stroke="#26261c" stroke-opacity="0.85" stroke-width="0.9"/>
<circle cx="455.7" cy="164.9" r="3.0" fill="#c2ba6f" fill-opacity="0.8" stroke="#26261c" stroke-opacity="0.85" stroke-width="0.9"/>
<circle cx="475.1" cy="162.7" r="3.0" fill="#c2ba6f" fill-opacity="0.8" stroke="#26261c" stroke-opacity="0.85" stroke-width="0.9"/>
<circle cx="501.6" cy="160.0" r="3.0" fill="#687f75" fill-opacity="0.8" stroke="#26261c" stroke-opacity="0.85" stroke-width="0.9"/>
<circle cx="512.1" cy="163.2" r="3.0" fill="#c2ba6f" fill-opacity="0.8" stroke="#26261c" stroke-opacity="0.85" stroke-width="0.9"/>
<circle cx="505.4" cy="164.4" r="3.0" fill="#c2ba6f" fill-opacity="0.8" stroke="#26261c" stroke-opacity="0.85" stroke-width="0.9"/>
<circle cx="487.8" cy="165.9" r="3.0" fill="#c2ba6f" fill-opacity="0.8" stroke="#26261c" stroke-opacity="0.85" stroke-width="0.9"/>
<circle cx="474.7" cy="168.5" r="3.0" fill="#687f75" fill-opacity="0.8" stroke="#26261c" stroke-opacity="0.85" stroke-width="0.9"/>
<circle cx="476.4" cy="171.2" r="3.0" fill="#c2ba6f" fill-opacity="0.8" stroke="#26261c" stroke-opacity="0.85" stroke-width="0.9"/>
<circle cx="504.3" cy="169.1" r="3.0" fill="#c2ba6f" fill-opacity="0.8" stroke="#26261c" stroke-opacity="0.85" stroke-width="0.9"/>
<circle cx="510.2" cy="174.0" r="3.0" fill="#c2ba6f" fill-opacity="0.8" stroke="#26261c" stroke-opacity="0.85" stroke-width="0.9"/>
<circle cx="525.9" cy="170.8" r="3.0" fill="#c2ba6f" fill-opacity="0.8" stroke="#26261c" stroke-opacity="0.85" stroke-width="0.9"/>
<circle cx="522.9" cy="156.4" r="3.0" fill="#c2ba6f" fill-opacity="0.8" stroke="#26261c" stroke-opacity="0.85" stroke-width="0.9"/>
<circle cx="522.9" cy="147.3" r="3.0" fill="#c2ba6f" fill-opacity="0.8" stroke="#26261c" stroke-opacity="0.85" stroke-width="0.9"/>
<circle cx="531.0" cy="147.5" r="3.0" fill="#c2ba6f" fill-opacity="0.8" stroke="#26261c" stroke-opacity="0.85" stroke-width="0.9"/>
<circle cx="530.6" cy="125.1" r="3.0" fill="#c2ba6f" fill-opacity="0.8" stroke="#26261c" stroke-opacity="0.85" stroke-width="0.9"/>
<circle cx="534.6" cy="121.3" r="3.0" fill="#c2ba6f" fill-opacity="0.8" stroke="#26261c" stroke-opacity="0.85" stroke-width="0.9"/>
<circle cx="536.5" cy="132.9" r="3.0" fill="#c2ba6f" fill-opacity="0.8" stroke="#26261c" stroke-opacity="0.85" stroke-width="0.9"/>
<circle cx="536.8" cy="155.2" r="3.0" fill="#687f75" fill-opacity="0.8" stroke="#26261c" stroke-opacity="0.85" stroke-width="0.9"/>
<circle cx="489.5" cy="176.5" r="3.0" fill="#c2ba6f" fill-opacity="0.8" stroke="#26261c" stroke-opacity="0.85" stroke-width="0.9"/>
<circle cx="409.1" cy="175.4" r="3.0" fill="#687f75" fill-opacity="0.8" stroke="#26261c" stroke-opacity="0.85" stroke-width="0.9"/>
<circle cx="416.6" cy="174.0" r="3.0" fill="#c2ba6f" fill-opacity="0.8" stroke="#26261c" stroke-opacity="0.85" stroke-width="0.9"/>
<circle cx="431.4" cy="172.8" r="3.0" fill="#c2ba6f" fill-opacity="0.8" stroke="#26261c" stroke-opacity="0.85" stroke-width="0.9"/>
<circle cx="442.4" cy="175.1" r="3.0" fill="#c2ba6f" fill-opacity="0.8" stroke="#26261c" stroke-opacity="0.85" stroke-width="0.9"/>
<circle cx="450.2" cy="173.8" r="3.0" fill="#c2ba6f" fill-opacity="0.8" stroke="#26261c" stroke-opacity="0.85" stroke-width="0.9"/>
<circle cx="455.0" cy="170.5" r="3.0" fill="#c2ba6f" fill-opacity="0.8" stroke="#26261c" stroke-opacity="0.85" stroke-width="0.9"/>
<circle cx="454.5" cy="174.5" r="3.0" fill="#c2ba6f" fill-opacity="0.8" stroke="#26261c" stroke-opacity="0.85" stroke-width="0.9"/>
<circle cx="454.4" cy="180.5" r="3.0" fill="#c2ba6f" fill-opacity="0.8" stroke="#26261c" stroke-opacity="0.85" stroke-width="0.9"/>
<circle cx="451.0" cy="182.4" r="3.0" fill="#c2ba6f" fill-opacity="0.8" stroke="#26261c" stroke-opacity="0.85" stroke-width="0.9"/>
<circle cx="461.4" cy="184.3" r="3.0" fill="#c2ba6f" fill-opacity="0.8" stroke="#26261c" stroke-opacity="0.85" stroke-width="0.9"/>
<circle cx="451.0" cy="186.8" r="3.0" fill="#c2ba6f" fill-opacity="0.8" stroke="#26261c" stroke-opacity="0.85" stroke-width="0.9"/>
<circle cx="454.4" cy="190.8" r="3.0" fill="#c2ba6f" fill-opacity="0.8" stroke="#26261c" stroke-opacity="0.85" stroke-width="0.9"/>
<circle cx="453.5" cy="192.6" r="3.0" fill="#c2ba6f" fill-opacity="0.8" stroke="#26261c" stroke-opacity="0.85" stroke-width="0.9"/>
<circle cx="447.5" cy="193.6" r="3.0" fill="#c2ba6f" fill-opacity="0.8" stroke="#26261c" stroke-opacity="0.85" stroke-width="0.9"/>
<circle cx="442.4" cy="196.0" r="3.0" fill="#c2ba6f" fill-opacity="0.8" stroke="#26261c" stroke-opacity="0.85" stroke-width="0.9"/>
<circle cx="475.1" cy="191.7" r="3.0" fill="#c2ba6f" fill-opacity="0.8" stroke="#26261c" stroke-opacity="0.85" stroke-width="0.9"/>
<circle cx="513.0" cy="186.9" r="3.0" fill="#687f75" fill-opacity="0.8" stroke="#26261c" stroke-opacity="0.85" stroke-width="0.9"/>
<circle cx="414.2" cy="187.4" r="3.0" fill="#c2ba6f" fill-opacity="0.8" stroke="#26261c" stroke-opacity="0.85" stroke-width="0.9"/>
<circle cx="416.0" cy="190.1" r="3.0" fill="#c2ba6f" fill-opacity="0.8" stroke="#26261c" stroke-opacity="0.85" stroke-width="0.9"/>
<circle cx="417.6" cy="193.8" r="3.0" fill="#c2ba6f" fill-opacity="0.8" stroke="#26261c" stroke-opacity="0.85" stroke-width="0.9"/>
<circle cx="416.0" cy="192.0" r="3.0" fill="#c2ba6f" fill-opacity="0.8" stroke="#26261c" stroke-opacity="0.85" stroke-width="0.9"/>
<circle cx="430.2" cy="192.2" r="3.0" fill="#c2ba6f" fill-opacity="0.8" stroke="#26261c" stroke-opacity="0.85" stroke-width="0.9"/>
<circle cx="433.7" cy="192.0" r="3.0" fill="#c2ba6f" fill-opacity="0.8" stroke="#26261c" stroke-opacity="0.85" stroke-width="0.9"/>
<circle cx="430.8" cy="195.0" r="3.0" fill="#c2ba6f" fill-opacity="0.8" stroke="#26261c" stroke-opacity="0.85" stroke-width="0.9"/>
<circle cx="411.4" cy="200.6" r="3.0" fill="#c2ba6f" fill-opacity="0.8" stroke="#26261c" stroke-opacity="0.85" stroke-width="0.9"/>
<circle cx="416.6" cy="203.6" r="3.0" fill="#c2ba6f" fill-opacity="0.8" stroke="#26261c" stroke-opacity="0.85" stroke-width="0.9"/>
<circle cx="414.8" cy="206.0" r="3.0" fill="#c2ba6f" fill-opacity="0.8" stroke="#26261c" stroke-opacity="0.85" stroke-width="0.9"/>
<circle cx="431.4" cy="207.2" r="3.0" fill="#c2ba6f" fill-opacity="0.8" stroke="#26261c" stroke-opacity="0.85" stroke-width="0.9"/>
<circle cx="431.0" cy="207.5" r="3.0" fill="#c2ba6f" fill-opacity="0.8" stroke="#26261c" stroke-opacity="0.85" stroke-width="0.9"/>
<circle cx="442.4" cy="208.3" r="3.0" fill="#c2ba6f" fill-opacity="0.8" stroke="#26261c" stroke-opacity="0.85" stroke-width="0.9"/>
<circle cx="452.5" cy="203.8" r="3.0" fill="#c2ba6f" fill-opacity="0.8" stroke="#26261c" stroke-opacity="0.85" stroke-width="0.9"/>
<circle cx="454.0" cy="205.3" r="3.0" fill="#c2ba6f" fill-opacity="0.8" stroke="#26261c" stroke-opacity="0.85" stroke-width="0.9"/>
<circle cx="454.4" cy="214.0" r="3.0" fill="#c2ba6f" fill-opacity="0.8" stroke="#26261c" stroke-opacity="0.85" stroke-width="0.9"/>
<circle cx="439.8" cy="216.6" r="3.0" fill="#c2ba6f" fill-opacity="0.8" stroke="#26261c" stroke-opacity="0.85" stroke-width="0.9"/>
<circle cx="417.0" cy="214.0" r="3.0" fill="#c2ba6f" fill-opacity="0.8" stroke="#26261c" stroke-opacity="0.85" stroke-width="0.9"/>
<circle cx="419.3" cy="217.2" r="3.0" fill="#c2ba6f" fill-opacity="0.8" stroke="#26261c" stroke-opacity="0.85" stroke-width="0.9"/>
<circle cx="414.8" cy="218.3" r="3.0" fill="#c2ba6f" fill-opacity="0.8" stroke="#26261c" stroke-opacity="0.85" stroke-width="0.9"/>
<circle cx="417.3" cy="215.5" r="3.0" fill="#c2ba6f" fill-opacity="0.8" stroke="#26261c" stroke-opacity="0.85" stroke-width="0.9"/>
<circle cx="498.0" cy="216.7" r="3.0" fill="#c2ba6f" fill-opacity="0.8" stroke="#26261c" stroke-opacity="0.85" stroke-width="0.9"/>
<circle cx="609.5" cy="123.2" r="3.0" fill="#687f75" fill-opacity="0.8" stroke="#26261c" stroke-opacity="0.85" stroke-width="0.9"/>
<circle cx="578.6" cy="139.4" r="3.0" fill="#687f75" fill-opacity="0.8" stroke="#26261c" stroke-opacity="0.85" stroke-width="0.9"/>
<circle cx="615.4" cy="139.4" r="3.0" fill="#c2ba6f" fill-opacity="0.8" stroke="#26261c" stroke-opacity="0.85" stroke-width="0.9"/>
<circle cx="548.6" cy="141.2" r="3.0" fill="#c2ba6f" fill-opacity="0.8" stroke="#26261c" stroke-opacity="0.85" stroke-width="0.9"/>
<circle cx="538.8" cy="143.1" r="3.0" fill="#c2ba6f" fill-opacity="0.8" stroke="#26261c" stroke-opacity="0.85" stroke-width="0.9"/>
<circle cx="539.8" cy="144.8" r="3.0" fill="#c2ba6f" fill-opacity="0.8" stroke="#26261c" stroke-opacity="0.85" stroke-width="0.9"/>
<circle cx="550.1" cy="145.3" r="3.0" fill="#687f75" fill-opacity="0.8" stroke="#26261c" stroke-opacity="0.85" stroke-width="0.9"/>
<circle cx="545.3" cy="147.1" r="3.0" fill="#c2ba6f" fill-opacity="0.8" stroke="#26261c" stroke-opacity="0.85" stroke-width="0.9"/>
<circle cx="565.5" cy="154.1" r="3.0" fill="#c2ba6f" fill-opacity="0.8" stroke="#26261c" stroke-opacity="0.85" stroke-width="0.9"/>
<circle cx="542.0" cy="156.9" r="3.0" fill="#c2ba6f" fill-opacity="0.8" stroke="#26261c" stroke-opacity="0.85" stroke-width="0.9"/>
<circle cx="636.6" cy="165.0" r="3.0" fill="#687f75" fill-opacity="0.8" stroke="#26261c" stroke-opacity="0.85" stroke-width="0.9"/>
<circle cx="650.9" cy="169.4" r="3.0" fill="#687f75" fill-opacity="0.8" stroke="#26261c" stroke-opacity="0.85" stroke-width="0.9"/>
<circle cx="615.4" cy="168.8" r="3.0" fill="#c2ba6f" fill-opacity="0.8" stroke="#26261c" stroke-opacity="0.85" stroke-width="0.9"/>
<circle cx="587.4" cy="173.4" r="3.0" fill="#c2ba6f" fill-opacity="0.8" stroke="#26261c" stroke-opacity="0.85" stroke-width="0.9"/>
<circle cx="545.3" cy="169.6" r="3.0" fill="#c2ba6f" fill-opacity="0.8" stroke="#26261c" stroke-opacity="0.85" stroke-width="0.9"/>
<circle cx="545.3" cy="176.2" r="3.0" fill="#c2ba6f" fill-opacity="0.8" stroke="#26261c" stroke-opacity="0.85" stroke-width="0.9"/>
<circle cx="545.3" cy="178.4" r="3.0" fill="#c2ba6f" fill-opacity="0.8" stroke="#26261c" stroke-opacity="0.85" stroke-width="0.9"/>
<circle cx="565.5" cy="183.2" r="3.0" fill="#c35f15" fill-opacity="0.8" stroke="#26261c" stroke-opacity="0.85" stroke-width="0.9"/>
<circle cx="562.8" cy="193.5" r="3.0" fill="#c35f15" fill-opacity="0.8" stroke="#26261c" stroke-opacity="0.85" stroke-width="0.9"/>
<path d="M409.5 179.5 L661.7 106.8" fill="none" stroke="#111" stroke-width="1.25"/>
<path d="M408.3 166.2 L414.7 164.9 L421.1 163.6 L427.5 162.3 L433.9 161.0 L440.3 159.6 L446.7 158.3 L453.0 157.0 L459.4 155.6 L465.8 154.2 L472.2 152.8 L478.6 151.4 L485.0 150.0 L491.4 148.5 L497.8 147.0 L504.2 145.5 L510.6 143.9 L517.0 142.2 L523.4 140.6 L529.8 138.8 L536.1 137.0 L542.5 135.1 L548.9 133.2 L555.3 131.2 L561.7 129.1 L568.1 127.0 L574.5 124.9 L580.9 122.7 L587.3 120.5 L593.7 118.2 L600.1 116.0 L606.5 113.7 L612.9 111.4 L619.3 109.0 L625.6 106.7 L632.0 104.3 L638.4 102.0 L644.8 99.6 L651.2 97.2 L657.6 94.8 L664.0 92.4" fill="none" stroke="#111" stroke-width="1.7" stroke-dasharray="8.3 5"/>
<path d="M409.0 194.8 L415.4 192.4 L421.8 190.0 L428.1 187.7 L434.5 185.3 L440.9 182.9 L447.2 180.6 L453.6 178.2 L460.0 175.9 L466.4 173.6 L472.8 171.3 L479.1 169.0 L485.5 166.8 L491.9 164.6 L498.2 162.5 L504.6 160.3 L511.0 158.3 L517.4 156.2 L523.8 154.3 L530.1 152.4 L536.5 150.5 L542.9 148.7 L549.2 146.9 L555.6 145.2 L562.0 143.6 L568.4 142.0 L574.8 140.5 L581.1 139.0 L587.5 137.5 L593.9 136.0 L600.2 134.6 L606.6 133.2 L613.0 131.9 L619.4 130.5 L625.8 129.2 L632.1 127.9 L638.5 126.6 L644.9 125.3 L651.2 124.0 L657.6 122.7 L664.0 121.4" fill="none" stroke="#111" stroke-width="1.7" stroke-dasharray="8.3 5"/>
<text x="399.8" y="14.9" font-size="13.2" font-family="Liberation Sans, sans-serif" font-weight="700" fill="#111">b</text>
<text x="541.5" y="264.2" font-size="15.3" text-anchor="middle" fill="#0d0d0d">Elevation (m a.s.l)</text>
<text transform="translate(360.9,118.3) rotate(-90)" font-size="15.3" text-anchor="middle" fill="#0d0d0d">C:N</text>
<rect x="45.6" y="270.9" width="280.0" height="239.5" fill="#fff" stroke="#b0b0b0" stroke-width="1.1"/>
<line x1="57.5" y1="269.9" x2="57.5" y2="511.0" stroke="#fff" stroke-width="0.9"/>
<line x1="126.53" y1="269.9" x2="126.53" y2="511.0" stroke="#fff" stroke-width="0.9"/>
<line x1="195.56" y1="269.9" x2="195.56" y2="511.0" stroke="#fff" stroke-width="0.9"/>
<line x1="264.59" y1="269.9" x2="264.59" y2="511.0" stroke="#fff" stroke-width="0.9"/>
<line x1="45.0" y1="493.4" x2="326.6" y2="493.4" stroke="#fff" stroke-width="0.9"/>
<line x1="45.0" y1="441.0" x2="326.6" y2="441.0" stroke="#fff" stroke-width="0.9"/>
<line x1="45.0" y1="388.59999999999997" x2="326.6" y2="388.59999999999997" stroke="#fff" stroke-width="0.9"/>
<line x1="45.0" y1="336.19999999999993" x2="326.6" y2="336.19999999999993" stroke="#fff" stroke-width="0.9"/>
<line x1="45.0" y1="283.79999999999995" x2="326.6" y2="283.79999999999995" stroke="#fff" stroke-width="0.9"/>
<line x1="92.0" y1="269.9" x2="92.0" y2="511.0" stroke="#fff" stroke-width="0.7"/>
<line x1="161.0" y1="269.9" x2="161.0" y2="511.0" stroke="#fff" stroke-width="0.7"/>
<line x1="230.1" y1="269.9" x2="230.1" y2="511.0" stroke="#fff" stroke-width="0.7"/>
<line x1="299.1" y1="269.9" x2="299.1" y2="511.0" stroke="#fff" stroke-width="0.7"/>
<line x1="45.0" y1="467.2" x2="326.6" y2="467.2" stroke="#fff" stroke-width="0.7"/>
<line x1="45.0" y1="414.8" x2="326.6" y2="414.8" stroke="#fff" stroke-width="0.7"/>
<line x1="45.0" y1="362.4" x2="326.6" y2="362.4" stroke="#fff" stroke-width="0.7"/>
<line x1="45.0" y1="310.0" x2="326.6" y2="310.0" stroke="#fff" stroke-width="0.7"/>
<line x1="57.5" y1="510.4" x2="57.5" y2="513.0" stroke="#444" stroke-width="0.9"/>
<text transform="translate(57.5 525.6) scale(0.92 1)" font-size="16.4" text-anchor="middle" fill="#0d0d0d">0</text>
<line x1="126.53" y1="510.4" x2="126.53" y2="513.0" stroke="#444" stroke-width="0.9"/>
<text transform="translate(126.5 525.6) scale(0.92 1)" font-size="16.4" text-anchor="middle" fill="#0d0d0d">1000</text>
<line x1="195.56" y1="510.4" x2="195.56" y2="513.0" stroke="#444" stroke-width="0.9"/>
<text transform="translate(195.6 525.6) scale(0.92 1)" font-size="16.4" text-anchor="middle" fill="#0d0d0d">2000</text>
<line x1="264.59" y1="510.4" x2="264.59" y2="513.0" stroke="#444" stroke-width="0.9"/>
<text transform="translate(264.6 525.6) scale(0.92 1)" font-size="16.4" text-anchor="middle" fill="#0d0d0d">3000</text>
<line x1="43.0" y1="493.4" x2="45.6" y2="493.4" stroke="#444" stroke-width="0.9"/>
<text transform="translate(40.6 499.2) scale(0.92 1)" font-size="16.4" text-anchor="end" fill="#0d0d0d">0.0</text>
<line x1="43.0" y1="441.0" x2="45.6" y2="441.0" stroke="#444" stroke-width="0.9"/>
<text transform="translate(40.6 446.8) scale(0.92 1)" font-size="16.4" text-anchor="end" fill="#0d0d0d">2.5</text>
<line x1="43.0" y1="388.59999999999997" x2="45.6" y2="388.59999999999997" stroke="#444" stroke-width="0.9"/>
<text transform="translate(40.6 394.4) scale(0.92 1)" font-size="16.4" text-anchor="end" fill="#0d0d0d">5.0</text>
<line x1="43.0" y1="336.19999999999993" x2="45.6" y2="336.19999999999993" stroke="#444" stroke-width="0.9"/>
<text transform="translate(40.6 342.0) scale(0.92 1)" font-size="16.4" text-anchor="end" fill="#0d0d0d">7.5</text>
<line x1="43.0" y1="283.79999999999995" x2="45.6" y2="283.79999999999995" stroke="#444" stroke-width="0.9"/>
<text transform="translate(40.6 289.6) scale(0.92 1)" font-size="16.4" text-anchor="end" fill="#0d0d0d">10.0</text>
<circle cx="88.6" cy="281.7" r="3.0" fill="#c35f15" fill-opacity="0.8" stroke="#26261c" stroke-opacity="0.85" stroke-width="0.9"/>
<circle cx="64.4" cy="306.8" r="3.0" fill="#687f75" fill-opacity="0.8" stroke="#26261c" stroke-opacity="0.85" stroke-width="0.9"/>
<circle cx="178.9" cy="317.3" r="3.0" fill="#c35f15" fill-opacity="0.8" stroke="#26261c" stroke-opacity="0.85" stroke-width="0.9"/>
<circle cx="84.3" cy="327.9" r="3.0" fill="#c2ba6f" fill-opacity="0.8" stroke="#26261c" stroke-opacity="0.85" stroke-width="0.9"/>
<circle cx="88.8" cy="334.2" r="3.0" fill="#c35f15" fill-opacity="0.8" stroke="#26261c" stroke-opacity="0.85" stroke-width="0.9"/>
<circle cx="82.8" cy="336.0" r="3.0" fill="#c2ba6f" fill-opacity="0.8" stroke="#26261c" stroke-opacity="0.85" stroke-width="0.9"/>
<circle cx="83.0" cy="340.2" r="3.0" fill="#c2ba6f" fill-opacity="0.8" stroke="#26261c" stroke-opacity="0.85" stroke-width="0.9"/>
<circle cx="106.1" cy="339.8" r="3.0" fill="#687f75" fill-opacity="0.8" stroke="#26261c" stroke-opacity="0.85" stroke-width="0.9"/>
<circle cx="106.8" cy="342.5" r="3.0" fill="#c2ba6f" fill-opacity="0.8" stroke="#26261c" stroke-opacity="0.85" stroke-width="0.9"/>
<circle cx="71.5" cy="344.5" r="3.0" fill="#c2ba6f" fill-opacity="0.8" stroke="#26261c" stroke-opacity="0.85" stroke-width="0.9"/>
<circle cx="101.4" cy="346.8" r="3.0" fill="#c2ba6f" fill-opacity="0.8" stroke="#26261c" stroke-opacity="0.85" stroke-width="0.9"/>
<circle cx="85.8" cy="348.6" r="3.0" fill="#c2ba6f" fill-opacity="0.8" stroke="#26261c" stroke-opacity="0.85" stroke-width="0.9"/>
<circle cx="106.0" cy="350.7" r="3.0" fill="#c2ba6f" fill-opacity="0.8" stroke="#26261c" stroke-opacity="0.85" stroke-width="0.9"/>
<circle cx="83.3" cy="353.1" r="3.0" fill="#c2ba6f" fill-opacity="0.8" stroke="#26261c" stroke-opacity="0.85" stroke-width="0.9"/>
<circle cx="103.5" cy="355.2" r="3.0" fill="#c2ba6f" fill-opacity="0.8" stroke="#26261c" stroke-opacity="0.85" stroke-width="0.9"/>
<circle cx="106.8" cy="355.6" r="3.0" fill="#c2ba6f" fill-opacity="0.8" stroke="#26261c" stroke-opacity="0.85" stroke-width="0.9"/>
<circle cx="106.6" cy="359.8" r="3.0" fill="#c2ba6f" fill-opacity="0.8" stroke="#26261c" stroke-opacity="0.85" stroke-width="0.9"/>
<circle cx="84.4" cy="359.4" r="3.0" fill="#c2ba6f" fill-opacity="0.8" stroke="#26261c" stroke-opacity="0.85" stroke-width="0.9"/>
<circle cx="99.5" cy="363.3" r="3.0" fill="#c2ba6f" fill-opacity="0.8" stroke="#26261c" stroke-opacity="0.85" stroke-width="0.9"/>
<circle cx="94.4" cy="365.0" r="3.0" fill="#c2ba6f" fill-opacity="0.8" stroke="#26261c" stroke-opacity="0.85" stroke-width="0.9"/>
<circle cx="103.5" cy="367.8" r="3.0" fill="#c2ba6f" fill-opacity="0.8" stroke="#26261c" stroke-opacity="0.85" stroke-width="0.9"/>
<circle cx="67.5" cy="369.0" r="3.0" fill="#c2ba6f" fill-opacity="0.8" stroke="#26261c" stroke-opacity="0.85" stroke-width="0.9"/>
<circle cx="85.5" cy="370.6" r="3.0" fill="#c2ba6f" fill-opacity="0.8" stroke="#26261c" stroke-opacity="0.85" stroke-width="0.9"/>
<circle cx="126.8" cy="371.6" r="3.0" fill="#c2ba6f" fill-opacity="0.8" stroke="#26261c" stroke-opacity="0.85" stroke-width="0.9"/>
<circle cx="67.1" cy="373.8" r="3.0" fill="#c2ba6f" fill-opacity="0.8" stroke="#26261c" stroke-opacity="0.85" stroke-width="0.9"/>
<circle cx="106.9" cy="372.3" r="3.0" fill="#c2ba6f" fill-opacity="0.8" stroke="#26261c" stroke-opacity="0.85" stroke-width="0.9"/>
<circle cx="107.4" cy="374.3" r="3.0" fill="#c2ba6f" fill-opacity="0.8" stroke="#26261c" stroke-opacity="0.85" stroke-width="0.9"/>
<circle cx="103.4" cy="375.7" r="3.0" fill="#c2ba6f" fill-opacity="0.8" stroke="#26261c" stroke-opacity="0.85" stroke-width="0.9"/>
<circle cx="108.2" cy="375.7" r="3.0" fill="#c2ba6f" fill-opacity="0.8" stroke="#26261c" stroke-opacity="0.85" stroke-width="0.9"/>
<circle cx="69.5" cy="379.7" r="3.0" fill="#c2ba6f" fill-opacity="0.8" stroke="#26261c" stroke-opacity="0.85" stroke-width="0.9"/>
<circle cx="86.5" cy="377.5" r="3.0" fill="#c2ba6f" fill-opacity="0.8" stroke="#26261c" stroke-opacity="0.85" stroke-width="0.9"/>
<circle cx="139.3" cy="380.2" r="3.0" fill="#c2ba6f" fill-opacity="0.8" stroke="#26261c" stroke-opacity="0.85" stroke-width="0.9"/>
<circle cx="181.5" cy="346.7" r="3.0" fill="#c35f15" fill-opacity="0.8" stroke="#26261c" stroke-opacity="0.85" stroke-width="0.9"/>
<circle cx="177.9" cy="350.8" r="3.0" fill="#c35f15" fill-opacity="0.8" stroke="#26261c" stroke-opacity="0.85" stroke-width="0.9"/>
<circle cx="172.1" cy="354.9" r="3.0" fill="#c35f15" fill-opacity="0.8" stroke="#26261c" stroke-opacity="0.85" stroke-width="0.9"/>
<circle cx="184.2" cy="369.7" r="3.0" fill="#c35f15" fill-opacity="0.8" stroke="#26261c" stroke-opacity="0.85" stroke-width="0.9"/>
<circle cx="85.9" cy="381.1" r="3.0" fill="#c2ba6f" fill-opacity="0.8" stroke="#26261c" stroke-opacity="0.85" stroke-width="0.9"/>
<circle cx="69.7" cy="384.8" r="3.0" fill="#c2ba6f" fill-opacity="0.8" stroke="#26261c" stroke-opacity="0.85" stroke-width="0.9"/>
<circle cx="70.6" cy="388.0" r="3.0" fill="#c2ba6f" fill-opacity="0.8" stroke="#26261c" stroke-opacity="0.85" stroke-width="0.9"/>
<circle cx="69.3" cy="391.5" r="3.0" fill="#c2ba6f" fill-opacity="0.8" stroke="#26261c" stroke-opacity="0.85" stroke-width="0.9"/>
<circle cx="68.7" cy="395.5" r="3.0" fill="#c2ba6f" fill-opacity="0.8" stroke="#26261c" stroke-opacity="0.85" stroke-width="0.9"/>
<circle cx="68.1" cy="400.9" r="3.0" fill="#c2ba6f" fill-opacity="0.8" stroke="#26261c" stroke-opacity="0.85" stroke-width="0.9"/>
<circle cx="94.5" cy="382.4" r="3.0" fill="#c2ba6f" fill-opacity="0.8" stroke="#26261c" stroke-opacity="0.85" stroke-width="0.9"/>
<circle cx="102.1" cy="381.8" r="3.0" fill="#c2ba6f" fill-opacity="0.8" stroke="#26261c" stroke-opacity="0.85" stroke-width="0.9"/>
<circle cx="106.8" cy="385.9" r="3.0" fill="#c2ba6f" fill-opacity="0.8" stroke="#26261c" stroke-opacity="0.85" stroke-width="0.9"/>
<circle cx="102.1" cy="387.3" r="3.0" fill="#c2ba6f" fill-opacity="0.8" stroke="#26261c" stroke-opacity="0.85" stroke-width="0.9"/>
<circle cx="126.4" cy="384.5" r="3.0" fill="#c2ba6f" fill-opacity="0.8" stroke="#26261c" stroke-opacity="0.85" stroke-width="0.9"/>
<circle cx="156.8" cy="388.6" r="3.0" fill="#c2ba6f" fill-opacity="0.8" stroke="#26261c" stroke-opacity="0.85" stroke-width="0.9"/>
<circle cx="113.5" cy="392.1" r="3.0" fill="#c2ba6f" fill-opacity="0.8" stroke="#26261c" stroke-opacity="0.85" stroke-width="0.9"/>
<circle cx="106.8" cy="392.7" r="3.0" fill="#c2ba6f" fill-opacity="0.8" stroke="#26261c" stroke-opacity="0.85" stroke-width="0.9"/>
<circle cx="126.4" cy="394.7" r="3.0" fill="#c2ba6f" fill-opacity="0.8" stroke="#26261c" stroke-opacity="0.85" stroke-width="0.9"/>
<circle cx="85.2" cy="396.6" r="3.0" fill="#c2ba6f" fill-opacity="0.8" stroke="#26261c" stroke-opacity="0.85" stroke-width="0.9"/>
<circle cx="85.4" cy="397.0" r="3.0" fill="#c2ba6f" fill-opacity="0.8" stroke="#26261c" stroke-opacity="0.85" stroke-width="0.9"/>
<circle cx="101.9" cy="397.0" r="3.0" fill="#c2ba6f" fill-opacity="0.8" stroke="#26261c" stroke-opacity="0.85" stroke-width="0.9"/>
<circle cx="108.0" cy="397.1" r="3.0" fill="#c2ba6f" fill-opacity="0.8" stroke="#26261c" stroke-opacity="0.85" stroke-width="0.9"/>
<circle cx="133.5" cy="398.2" r="3.0" fill="#c2ba6f" fill-opacity="0.8" stroke="#26261c" stroke-opacity="0.85" stroke-width="0.9"/>
<circle cx="144.6" cy="400.9" r="3.0" fill="#c2ba6f" fill-opacity="0.8" stroke="#26261c" stroke-opacity="0.85" stroke-width="0.9"/>
<circle cx="140.1" cy="403.5" r="3.0" fill="#c2ba6f" fill-opacity="0.8" stroke="#26261c" stroke-opacity="0.85" stroke-width="0.9"/>
<circle cx="142.1" cy="405.4" r="3.0" fill="#c2ba6f" fill-opacity="0.8" stroke="#26261c" stroke-opacity="0.85" stroke-width="0.9"/>
<circle cx="133.5" cy="406.0" r="3.0" fill="#c2ba6f" fill-opacity="0.8" stroke="#26261c" stroke-opacity="0.85" stroke-width="0.9"/>
<circle cx="149.3" cy="407.4" r="3.0" fill="#c2ba6f" fill-opacity="0.8" stroke="#26261c" stroke-opacity="0.85" stroke-width="0.9"/>
<circle cx="114.5" cy="405.0" r="3.0" fill="#c2ba6f" fill-opacity="0.8" stroke="#26261c" stroke-opacity="0.85" stroke-width="0.9"/>
<circle cx="110.6" cy="405.2" r="3.0" fill="#c2ba6f" fill-opacity="0.8" stroke="#26261c" stroke-opacity="0.85" stroke-width="0.9"/>
<circle cx="107.1" cy="407.5" r="3.0" fill="#c2ba6f" fill-opacity="0.8" stroke="#26261c" stroke-opacity="0.85" stroke-width="0.9"/>
<circle cx="103.9" cy="413.5" r="3.0" fill="#c2ba6f" fill-opacity="0.8" stroke="#26261c" stroke-opacity="0.85" stroke-width="0.9"/>
<circle cx="106.3" cy="418.2" r="3.0" fill="#c2ba6f" fill-opacity="0.8" stroke="#26261c" stroke-opacity="0.85" stroke-width="0.9"/>
<circle cx="104.5" cy="417.5" r="3.0" fill="#c2ba6f" fill-opacity="0.8" stroke="#26261c" stroke-opacity="0.85" stroke-width="0.9"/>
<circle cx="94.7" cy="419.5" r="3.0" fill="#c2ba6f" fill-opacity="0.8" stroke="#26261c" stroke-opacity="0.85" stroke-width="0.9"/>
<circle cx="68.5" cy="420.3" r="3.0" fill="#c2ba6f" fill-opacity="0.8" stroke="#26261c" stroke-opacity="0.85" stroke-width="0.9"/>
<circle cx="67.1" cy="421.9" r="3.0" fill="#c2ba6f" fill-opacity="0.8" stroke="#26261c" stroke-opacity="0.85" stroke-width="0.9"/>
<circle cx="138.4" cy="414.2" r="3.0" fill="#c2ba6f" fill-opacity="0.8" stroke="#26261c" stroke-opacity="0.85" stroke-width="0.9"/>
<circle cx="132.3" cy="416.2" r="3.0" fill="#c2ba6f" fill-opacity="0.8" stroke="#26261c" stroke-opacity="0.85" stroke-width="0.9"/>
<circle cx="128.2" cy="419.7" r="3.0" fill="#c2ba6f" fill-opacity="0.8" stroke="#26261c" stroke-opacity="0.85" stroke-width="0.9"/>
<circle cx="132.9" cy="419.7" r="3.0" fill="#c2ba6f" fill-opacity="0.8" stroke="#26261c" stroke-opacity="0.85" stroke-width="0.9"/>
<circle cx="137.6" cy="419.9" r="3.0" fill="#c2ba6f" fill-opacity="0.8" stroke="#26261c" stroke-opacity="0.85" stroke-width="0.9"/>
<circle cx="158.5" cy="413.5" r="3.0" fill="#c2ba6f" fill-opacity="0.8" stroke="#26261c" stroke-opacity="0.85" stroke-width="0.9"/>
<circle cx="160.1" cy="415.6" r="3.0" fill="#c2ba6f" fill-opacity="0.8" stroke="#26261c" stroke-opacity="0.85" stroke-width="0.9"/>
<circle cx="163.2" cy="417.6" r="3.0" fill="#c2ba6f" fill-opacity="0.8" stroke="#26261c" stroke-opacity="0.85" stroke-width="0.9"/>
<circle cx="111.9" cy="424.4" r="3.0" fill="#c2ba6f" fill-opacity="0.8" stroke="#26261c" stroke-opacity="0.85" stroke-width="0.9"/>
<circle cx="110.0" cy="424.0" r="3.0" fill="#c2ba6f" fill-opacity="0.8" stroke="#26261c" stroke-opacity="0.85" stroke-width="0.9"/>
<circle cx="105.3" cy="427.0" r="3.0" fill="#c2ba6f" fill-opacity="0.8" stroke="#26261c" stroke-opacity="0.85" stroke-width="0.9"/>
<circle cx="129.6" cy="427.0" r="3.0" fill="#c2ba6f" fill-opacity="0.8" stroke="#26261c" stroke-opacity="0.85" stroke-width="0.9"/>
<circle cx="130.2" cy="429.3" r="3.0" fill="#c2ba6f" fill-opacity="0.8" stroke="#26261c" stroke-opacity="0.85" stroke-width="0.9"/>
<circle cx="157.0" cy="424.4" r="3.0" fill="#c2ba6f" fill-opacity="0.8" stroke="#26261c" stroke-opacity="0.85" stroke-width="0.9"/>
<circle cx="155.9" cy="425.8" r="3.0" fill="#c2ba6f" fill-opacity="0.8" stroke="#26261c" stroke-opacity="0.85" stroke-width="0.9"/>
<circle cx="181.3" cy="423.7" r="3.0" fill="#c2ba6f" fill-opacity="0.8" stroke="#26261c" stroke-opacity="0.85" stroke-width="0.9"/>
<circle cx="113.6" cy="434.7" r="3.0" fill="#c2ba6f" fill-opacity="0.8" stroke="#26261c" stroke-opacity="0.85" stroke-width="0.9"/>
<circle cx="102.4" cy="441.1" r="3.0" fill="#c2ba6f" fill-opacity="0.8" stroke="#26261c" stroke-opacity="0.85" stroke-width="0.9"/>
<circle cx="106.0" cy="441.1" r="3.0" fill="#687f75" fill-opacity="0.8" stroke="#26261c" stroke-opacity="0.85" stroke-width="0.9"/>
<circle cx="115.2" cy="449.3" r="3.0" fill="#c2ba6f" fill-opacity="0.8" stroke="#26261c" stroke-opacity="0.85" stroke-width="0.9"/>
<circle cx="159.1" cy="444.8" r="3.0" fill="#c2ba6f" fill-opacity="0.8" stroke="#26261c" stroke-opacity="0.85" stroke-width="0.9"/>
<circle cx="179.3" cy="437.5" r="3.0" fill="#c2ba6f" fill-opacity="0.8" stroke="#26261c" stroke-opacity="0.85" stroke-width="0.9"/>
<circle cx="173.2" cy="443.1" r="3.0" fill="#c2ba6f" fill-opacity="0.8" stroke="#26261c" stroke-opacity="0.85" stroke-width="0.9"/>
<circle cx="176.5" cy="448.3" r="3.0" fill="#c2ba6f" fill-opacity="0.8" stroke="#26261c" stroke-opacity="0.85" stroke-width="0.9"/>
<circle cx="163.6" cy="451.5" r="3.0" fill="#687f75" fill-opacity="0.8" stroke="#26261c" stroke-opacity="0.85" stroke-width="0.9"/>
<circle cx="173.5" cy="461.7" r="3.0" fill="#c2ba6f" fill-opacity="0.8" stroke="#26261c" stroke-opacity="0.85" stroke-width="0.9"/>
<circle cx="178.1" cy="467.8" r="3.0" fill="#c2ba6f" fill-opacity="0.8" stroke="#26261c" stroke-opacity="0.85" stroke-width="0.9"/>
<circle cx="195.3" cy="369.8" r="3.0" fill="#c2ba6f" fill-opacity="0.8" stroke="#26261c" stroke-opacity="0.85" stroke-width="0.9"/>
<circle cx="205.2" cy="368.7" r="3.0" fill="#c35f15" fill-opacity="0.8" stroke="#26261c" stroke-opacity="0.85" stroke-width="0.9"/>
<circle cx="206.7" cy="369.8" r="3.0" fill="#c35f15" fill-opacity="0.8" stroke="#26261c" stroke-opacity="0.85" stroke-width="0.9"/>
<circle cx="206.7" cy="365.4" r="3.0" fill="#c35f15" fill-opacity="0.8" stroke="#26261c" stroke-opacity="0.85" stroke-width="0.9"/>
<circle cx="212.4" cy="376.0" r="3.0" fill="#c35f15" fill-opacity="0.8" stroke="#26261c" stroke-opacity="0.85" stroke-width="0.9"/>
<circle cx="212.6" cy="376.2" r="3.0" fill="#c35f15" fill-opacity="0.8" stroke="#26261c" stroke-opacity="0.85" stroke-width="0.9"/>
<circle cx="195.3" cy="383.8" r="3.0" fill="#c2ba6f" fill-opacity="0.8" stroke="#26261c" stroke-opacity="0.85" stroke-width="0.9"/>
<circle cx="195.3" cy="386.2" r="3.0" fill="#c2ba6f" fill-opacity="0.8" stroke="#26261c" stroke-opacity="0.85" stroke-width="0.9"/>
<circle cx="227.1" cy="384.5" r="3.0" fill="#c35f15" fill-opacity="0.8" stroke="#26261c" stroke-opacity="0.85" stroke-width="0.9"/>
<circle cx="231.7" cy="384.5" r="3.0" fill="#c35f15" fill-opacity="0.8" stroke="#26261c" stroke-opacity="0.85" stroke-width="0.9"/>
<circle cx="229.9" cy="390.3" r="3.0" fill="#c35f15" fill-opacity="0.8" stroke="#26261c" stroke-opacity="0.85" stroke-width="0.9"/>
<circle cx="234.1" cy="394.9" r="3.0" fill="#c35f15" fill-opacity="0.8" stroke="#26261c" stroke-opacity="0.85" stroke-width="0.9"/>
<circle cx="231.5" cy="403.0" r="3.0" fill="#c35f15" fill-opacity="0.8" stroke="#26261c" stroke-opacity="0.85" stroke-width="0.9"/>
<circle cx="248.1" cy="403.0" r="3.0" fill="#c35f15" fill-opacity="0.8" stroke="#26261c" stroke-opacity="0.85" stroke-width="0.9"/>
<circle cx="264.7" cy="392.7" r="3.0" fill="#c2ba6f" fill-opacity="0.8" stroke="#26261c" stroke-opacity="0.85" stroke-width="0.9"/>
<circle cx="264.7" cy="407.4" r="3.0" fill="#c2ba6f" fill-opacity="0.8" stroke="#26261c" stroke-opacity="0.85" stroke-width="0.9"/>
<circle cx="264.7" cy="422.0" r="3.0" fill="#c2ba6f" fill-opacity="0.8" stroke="#26261c" stroke-opacity="0.85" stroke-width="0.9"/>
<circle cx="215.5" cy="411.7" r="3.0" fill="#c35f15" fill-opacity="0.8" stroke="#26261c" stroke-opacity="0.85" stroke-width="0.9"/>
<circle cx="215.5" cy="418.3" r="3.0" fill="#c35f15" fill-opacity="0.8" stroke="#26261c" stroke-opacity="0.85" stroke-width="0.9"/>
<circle cx="187.0" cy="425.4" r="3.0" fill="#c2ba6f" fill-opacity="0.8" stroke="#26261c" stroke-opacity="0.85" stroke-width="0.9"/>
<circle cx="192.5" cy="426.6" r="3.0" fill="#c2ba6f" fill-opacity="0.8" stroke="#26261c" stroke-opacity="0.85" stroke-width="0.9"/>
<circle cx="198.6" cy="437.8" r="3.0" fill="#c2ba6f" fill-opacity="0.8" stroke="#26261c" stroke-opacity="0.85" stroke-width="0.9"/>
<circle cx="211.3" cy="443.0" r="3.0" fill="#c2ba6f" fill-opacity="0.8" stroke="#26261c" stroke-opacity="0.85" stroke-width="0.9"/>
<circle cx="215.6" cy="444.2" r="3.0" fill="#c2ba6f" fill-opacity="0.8" stroke="#26261c" stroke-opacity="0.85" stroke-width="0.9"/>
<circle cx="188.3" cy="445.8" r="3.0" fill="#c2ba6f" fill-opacity="0.8" stroke="#26261c" stroke-opacity="0.85" stroke-width="0.9"/>
<circle cx="192.5" cy="448.0" r="3.0" fill="#c2ba6f" fill-opacity="0.8" stroke="#26261c" stroke-opacity="0.85" stroke-width="0.9"/>
<circle cx="193.8" cy="458.2" r="3.0" fill="#c2ba6f" fill-opacity="0.8" stroke="#26261c" stroke-opacity="0.85" stroke-width="0.9"/>
<circle cx="187.7" cy="472.8" r="3.0" fill="#c2ba6f" fill-opacity="0.8" stroke="#26261c" stroke-opacity="0.85" stroke-width="0.9"/>
<circle cx="204.5" cy="473.9" r="3.0" fill="#c2ba6f" fill-opacity="0.8" stroke="#26261c" stroke-opacity="0.85" stroke-width="0.9"/>
<circle cx="183.2" cy="480.4" r="3.0" fill="#c2ba6f" fill-opacity="0.8" stroke="#26261c" stroke-opacity="0.85" stroke-width="0.9"/>
<circle cx="191.0" cy="484.5" r="3.0" fill="#c2ba6f" fill-opacity="0.8" stroke="#26261c" stroke-opacity="0.85" stroke-width="0.9"/>
<circle cx="189.2" cy="486.4" r="3.0" fill="#c2ba6f" fill-opacity="0.8" stroke="#26261c" stroke-opacity="0.85" stroke-width="0.9"/>
<circle cx="180.9" cy="491.2" r="3.0" fill="#c2ba6f" fill-opacity="0.8" stroke="#26261c" stroke-opacity="0.85" stroke-width="0.9"/>
<circle cx="184.8" cy="492.8" r="3.0" fill="#c2ba6f" fill-opacity="0.8" stroke="#26261c" stroke-opacity="0.85" stroke-width="0.9"/>
<circle cx="210.6" cy="498.2" r="3.0" fill="#c2ba6f" fill-opacity="0.8" stroke="#26261c" stroke-opacity="0.85" stroke-width="0.9"/>
<circle cx="243.7" cy="476.3" r="3.0" fill="#687f75" fill-opacity="0.8" stroke="#26261c" stroke-opacity="0.85" stroke-width="0.9"/>
<circle cx="248.5" cy="488.4" r="3.0" fill="#c35f15" fill-opacity="0.8" stroke="#26261c" stroke-opacity="0.85" stroke-width="0.9"/>
<circle cx="255.8" cy="493.0" r="3.0" fill="#c35f15" fill-opacity="0.8" stroke="#26261c" stroke-opacity="0.85" stroke-width="0.9"/>
<circle cx="256.2" cy="443.5" r="3.0" fill="#c35f15" fill-opacity="0.8" stroke="#26261c" stroke-opacity="0.85" stroke-width="0.9"/>
<circle cx="260.1" cy="457.7" r="3.0" fill="#c35f15" fill-opacity="0.8" stroke="#26261c" stroke-opacity="0.85" stroke-width="0.9"/>
<circle cx="271.3" cy="438.7" r="3.0" fill="#687f75" fill-opacity="0.8" stroke="#26261c" stroke-opacity="0.85" stroke-width="0.9"/>
<circle cx="271.3" cy="455.8" r="3.0" fill="#687f75" fill-opacity="0.8" stroke="#26261c" stroke-opacity="0.85" stroke-width="0.9"/>
<circle cx="279.2" cy="438.7" r="3.0" fill="#c2ba6f" fill-opacity="0.8" stroke="#26261c" stroke-opacity="0.85" stroke-width="0.9"/>
<circle cx="281.2" cy="442.0" r="3.0" fill="#c2ba6f" fill-opacity="0.8" stroke="#26261c" stroke-opacity="0.85" stroke-width="0.9"/>
<circle cx="277.4" cy="444.6" r="3.0" fill="#c2ba6f" fill-opacity="0.8" stroke="#26261c" stroke-opacity="0.85" stroke-width="0.9"/>
<circle cx="160.7" cy="484.0" r="3.0" fill="#c2ba6f" fill-opacity="0.8" stroke="#26261c" stroke-opacity="0.85" stroke-width="0.9"/>
<circle cx="104.8" cy="371.5" r="3.0" fill="#c2ba6f" fill-opacity="0.8" stroke="#26261c" stroke-opacity="0.85" stroke-width="0.9"/>
<circle cx="106.0" cy="379.5" r="3.0" fill="#c2ba6f" fill-opacity="0.8" stroke="#26261c" stroke-opacity="0.85" stroke-width="0.9"/>
<circle cx="105.3" cy="388.5" r="3.0" fill="#c2ba6f" fill-opacity="0.8" stroke="#26261c" stroke-opacity="0.85" stroke-width="0.9"/>
<circle cx="106.2" cy="394.5" r="3.0" fill="#c2ba6f" fill-opacity="0.8" stroke="#26261c" stroke-opacity="0.85" stroke-width="0.9"/>
<circle cx="70.2" cy="386.5" r="3.0" fill="#c2ba6f" fill-opacity="0.8" stroke="#26261c" stroke-opacity="0.85" stroke-width="0.9"/>
<circle cx="68.9" cy="398.0" r="3.0" fill="#c2ba6f" fill-opacity="0.8" stroke="#26261c" stroke-opacity="0.85" stroke-width="0.9"/>
<circle cx="175.1" cy="495.4" r="3.0" fill="#687f75" fill-opacity="0.8" stroke="#26261c" stroke-opacity="0.85" stroke-width="0.9"/>
<circle cx="175.1" cy="499.8" r="3.0" fill="#687f75" fill-opacity="0.8" stroke="#26261c" stroke-opacity="0.85" stroke-width="0.9"/>
<path d="M64.4 353.8 L281.2 454.9" fill="none" stroke="#111" stroke-width="1.25"/>
<path d="M64.4 341.4 L69.8 344.4 L75.2 347.4 L80.7 350.4 L86.1 353.4 L91.5 356.4 L96.9 359.3 L102.3 362.3 L107.8 365.2 L113.2 368.1 L118.6 371.0 L124.0 373.9 L129.4 376.8 L134.9 379.6 L140.3 382.4 L145.7 385.2 L151.1 387.9 L156.5 390.6 L162.0 393.2 L167.4 395.8 L172.8 398.3 L178.2 400.8 L183.6 403.3 L189.1 405.7 L194.5 408.0 L199.9 410.4 L205.3 412.6 L210.7 414.9 L216.2 417.1 L221.6 419.3 L227.0 421.5 L232.4 423.6 L237.8 425.7 L243.3 427.9 L248.7 430.0 L254.1 432.1 L259.5 434.1 L264.9 436.2 L270.4 438.3 L275.8 440.3 L281.2 442.4" fill="none" stroke="#111" stroke-width="1.7" stroke-dasharray="8.3 5"/>
<path d="M64.4 366.2 L69.8 368.2 L75.2 370.3 L80.7 372.3 L86.1 374.4 L91.5 376.5 L96.9 378.6 L102.3 380.7 L107.8 382.8 L113.2 385.0 L118.6 387.1 L124.0 389.3 L129.4 391.5 L134.9 393.7 L140.3 396.0 L145.7 398.3 L151.1 400.6 L156.5 403.0 L162.0 405.4 L167.4 407.8 L172.8 410.4 L178.2 412.9 L183.6 415.5 L189.1 418.2 L194.5 420.9 L199.9 423.6 L205.3 426.4 L210.7 429.2 L216.2 432.0 L221.6 434.9 L227.0 437.8 L232.4 440.7 L237.8 443.6 L243.3 446.5 L248.7 449.5 L254.1 452.5 L259.5 455.4 L264.9 458.4 L270.4 461.4 L275.8 464.4 L281.2 467.4" fill="none" stroke="#111" stroke-width="1.7" stroke-dasharray="8.3 5"/>
<text x="48.6" y="285.4" font-size="13.2" font-family="Liberation Sans, sans-serif" font-weight="700" fill="#111">c</text>
<text x="188.0" y="547.5" font-size="15.3" text-anchor="middle" fill="#0d0d0d">Elevation (m a.s.l)</text>
<text transform="translate(15.2,384.0) rotate(-90)" font-size="15.3" text-anchor="middle" fill="#0d0d0d">δ<tspan font-size="10.3" dy="-4.2" dx="0.3">15</tspan><tspan dy="4.2" dx="0.4">N (‰)</tspan></text>
<rect x="389.3" y="270.9" width="292.9" height="240.9" fill="#fff" stroke="#b0b0b0" stroke-width="1.1"/>
<line x1="402.3" y1="269.9" x2="402.3" y2="512.4" stroke="#fff" stroke-width="0.9"/>
<line x1="455.62" y1="269.9" x2="455.62" y2="512.4" stroke="#fff" stroke-width="0.9"/>
<line x1="508.94" y1="269.9" x2="508.94" y2="512.4" stroke="#fff" stroke-width="0.9"/>
<line x1="562.26" y1="269.9" x2="562.26" y2="512.4" stroke="#fff" stroke-width="0.9"/>
<line x1="615.58" y1="269.9" x2="615.58" y2="512.4" stroke="#fff" stroke-width="0.9"/>
<line x1="668.9000000000001" y1="269.9" x2="668.9000000000001" y2="512.4" stroke="#fff" stroke-width="0.9"/>
<line x1="388.7" y1="501.3" x2="683.2" y2="501.3" stroke="#fff" stroke-width="0.9"/>
<line x1="388.7" y1="446.38" x2="683.2" y2="446.38" stroke="#fff" stroke-width="0.9"/>
<line x1="388.7" y1="391.46000000000004" x2="683.2" y2="391.46000000000004" stroke="#fff" stroke-width="0.9"/>
<line x1="388.7" y1="336.54" x2="683.2" y2="336.54" stroke="#fff" stroke-width="0.9"/>
<line x1="388.7" y1="281.62" x2="683.2" y2="281.62" stroke="#fff" stroke-width="0.9"/>
<line x1="429.0" y1="269.9" x2="429.0" y2="512.4" stroke="#fff" stroke-width="0.7"/>
<line x1="482.3" y1="269.9" x2="482.3" y2="512.4" stroke="#fff" stroke-width="0.7"/>
<line x1="535.6" y1="269.9" x2="535.6" y2="512.4" stroke="#fff" stroke-width="0.7"/>
<line x1="588.9" y1="269.9" x2="588.9" y2="512.4" stroke="#fff" stroke-width="0.7"/>
<line x1="642.2" y1="269.9" x2="642.2" y2="512.4" stroke="#fff" stroke-width="0.7"/>
<line x1="388.7" y1="473.8" x2="683.2" y2="473.8" stroke="#fff" stroke-width="0.7"/>
<line x1="388.7" y1="418.9" x2="683.2" y2="418.9" stroke="#fff" stroke-width="0.7"/>
<line x1="388.7" y1="364.0" x2="683.2" y2="364.0" stroke="#fff" stroke-width="0.7"/>
<line x1="388.7" y1="309.1" x2="683.2" y2="309.1" stroke="#fff" stroke-width="0.7"/>
<line x1="402.3" y1="511.8" x2="402.3" y2="514.4" stroke="#444" stroke-width="0.9"/>
<text transform="translate(402.3 527.0) scale(0.92 1)" font-size="16.4" text-anchor="middle" fill="#0d0d0d">0</text>
<line x1="455.62" y1="511.8" x2="455.62" y2="514.4" stroke="#444" stroke-width="0.9"/>
<text transform="translate(455.6 527.0) scale(0.92 1)" font-size="16.4" text-anchor="middle" fill="#0d0d0d">0.5</text>
<line x1="508.94" y1="511.8" x2="508.94" y2="514.4" stroke="#444" stroke-width="0.9"/>
<text transform="translate(508.9 527.0) scale(0.92 1)" font-size="16.4" text-anchor="middle" fill="#0d0d0d">1</text>
<line x1="562.26" y1="511.8" x2="562.26" y2="514.4" stroke="#444" stroke-width="0.9"/>
<text transform="translate(562.3 527.0) scale(0.92 1)" font-size="16.4" text-anchor="middle" fill="#0d0d0d">1.5</text>
<line x1="615.58" y1="511.8" x2="615.58" y2="514.4" stroke="#444" stroke-width="0.9"/>
<text transform="translate(615.6 527.0) scale(0.92 1)" font-size="16.4" text-anchor="middle" fill="#0d0d0d">2</text>
<line x1="668.9000000000001" y1="511.8" x2="668.9000000000001" y2="514.4" stroke="#444" stroke-width="0.9"/>
<text transform="translate(668.9 527.0) scale(0.92 1)" font-size="16.4" text-anchor="middle" fill="#0d0d0d">2.5</text>
<line x1="386.7" y1="501.3" x2="389.3" y2="501.3" stroke="#444" stroke-width="0.9"/>
<text transform="translate(384.3 507.1) scale(0.92 1)" font-size="16.4" text-anchor="end" fill="#0d0d0d">0</text>
<line x1="386.7" y1="446.38" x2="389.3" y2="446.38" stroke="#444" stroke-width="0.9"/>
<text transform="translate(384.3 452.2) scale(0.92 1)" font-size="16.4" text-anchor="end" fill="#0d0d0d">2</text>
<line x1="386.7" y1="391.46000000000004" x2="389.3" y2="391.46000000000004" stroke="#444" stroke-width="0.9"/>
<text transform="translate(384.3 397.3) scale(0.92 1)" font-size="16.4" text-anchor="end" fill="#0d0d0d">4</text>
<line x1="386.7" y1="336.54" x2="389.3" y2="336.54" stroke="#444" stroke-width="0.9"/>
<text transform="translate(384.3 342.3) scale(0.92 1)" font-size="16.4" text-anchor="end" fill="#0d0d0d">6</text>
<line x1="386.7" y1="281.62" x2="389.3" y2="281.62" stroke="#444" stroke-width="0.9"/>
<text transform="translate(384.3 287.4) scale(0.92 1)" font-size="16.4" text-anchor="end" fill="#0d0d0d">8</text>
<circle cx="420.5" cy="284.4" r="3.0" fill="#c2ba6f" fill-opacity="0.8" stroke="#26261c" stroke-opacity="0.85" stroke-width="0.9"/>
<circle cx="421.4" cy="292.6" r="3.0" fill="#c35f15" fill-opacity="0.8" stroke="#26261c" stroke-opacity="0.85" stroke-width="0.9"/>
<circle cx="424.6" cy="295.4" r="3.0" fill="#c2ba6f" fill-opacity="0.8" stroke="#26261c" stroke-opacity="0.85" stroke-width="0.9"/>
<circle cx="427.8" cy="300.9" r="3.0" fill="#c2ba6f" fill-opacity="0.8" stroke="#26261c" stroke-opacity="0.85" stroke-width="0.9"/>
<circle cx="435.1" cy="300.8" r="3.0" fill="#687f75" fill-opacity="0.8" stroke="#26261c" stroke-opacity="0.85" stroke-width="0.9"/>
<circle cx="438.8" cy="303.6" r="3.0" fill="#c2ba6f" fill-opacity="0.8" stroke="#26261c" stroke-opacity="0.85" stroke-width="0.9"/>
<circle cx="417.3" cy="306.4" r="3.0" fill="#c2ba6f" fill-opacity="0.8" stroke="#26261c" stroke-opacity="0.85" stroke-width="0.9"/>
<circle cx="423.6" cy="311.6" r="3.0" fill="#c2ba6f" fill-opacity="0.8" stroke="#26261c" stroke-opacity="0.85" stroke-width="0.9"/>
<circle cx="429.4" cy="314.1" r="3.0" fill="#c2ba6f" fill-opacity="0.8" stroke="#26261c" stroke-opacity="0.85" stroke-width="0.9"/>
<circle cx="426.8" cy="317.3" r="3.0" fill="#c2ba6f" fill-opacity="0.8" stroke="#26261c" stroke-opacity="0.85" stroke-width="0.9"/>
<circle cx="433.4" cy="320.0" r="3.0" fill="#c2ba6f" fill-opacity="0.8" stroke="#26261c" stroke-opacity="0.85" stroke-width="0.9"/>
<circle cx="427.2" cy="325.1" r="3.0" fill="#c2ba6f" fill-opacity="0.8" stroke="#26261c" stroke-opacity="0.85" stroke-width="0.9"/>
<circle cx="429.5" cy="324.4" r="3.0" fill="#c2ba6f" fill-opacity="0.8" stroke="#26261c" stroke-opacity="0.85" stroke-width="0.9"/>
<circle cx="432.4" cy="331.0" r="3.0" fill="#c2ba6f" fill-opacity="0.8" stroke="#26261c" stroke-opacity="0.85" stroke-width="0.9"/>
<circle cx="450.7" cy="336.4" r="3.0" fill="#c2ba6f" fill-opacity="0.8" stroke="#26261c" stroke-opacity="0.85" stroke-width="0.9"/>
<circle cx="451.0" cy="336.8" r="3.0" fill="#c2ba6f" fill-opacity="0.8" stroke="#26261c" stroke-opacity="0.85" stroke-width="0.9"/>
<circle cx="431.2" cy="339.3" r="3.0" fill="#c2ba6f" fill-opacity="0.8" stroke="#26261c" stroke-opacity="0.85" stroke-width="0.9"/>
<circle cx="435.6" cy="342.2" r="3.0" fill="#c2ba6f" fill-opacity="0.8" stroke="#26261c" stroke-opacity="0.85" stroke-width="0.9"/>
<circle cx="419.5" cy="344.3" r="3.0" fill="#c2ba6f" fill-opacity="0.8" stroke="#26261c" stroke-opacity="0.85" stroke-width="0.9"/>
<circle cx="425.0" cy="344.3" r="3.0" fill="#c2ba6f" fill-opacity="0.8" stroke="#26261c" stroke-opacity="0.85" stroke-width="0.9"/>
<circle cx="426.8" cy="346.8" r="3.0" fill="#c2ba6f" fill-opacity="0.8" stroke="#26261c" stroke-opacity="0.85" stroke-width="0.9"/>
<circle cx="405.6" cy="349.5" r="3.0" fill="#c2ba6f" fill-opacity="0.8" stroke="#26261c" stroke-opacity="0.85" stroke-width="0.9"/>
<circle cx="469.6" cy="309.0" r="3.0" fill="#c2ba6f" fill-opacity="0.8" stroke="#26261c" stroke-opacity="0.85" stroke-width="0.9"/>
<circle cx="468.2" cy="320.0" r="3.0" fill="#c2ba6f" fill-opacity="0.8" stroke="#26261c" stroke-opacity="0.85" stroke-width="0.9"/>
<circle cx="471.5" cy="332.9" r="3.0" fill="#c2ba6f" fill-opacity="0.8" stroke="#26261c" stroke-opacity="0.85" stroke-width="0.9"/>
<circle cx="470.5" cy="339.3" r="3.0" fill="#c2ba6f" fill-opacity="0.8" stroke="#26261c" stroke-opacity="0.85" stroke-width="0.9"/>
<circle cx="463.0" cy="347.2" r="3.0" fill="#c2ba6f" fill-opacity="0.8" stroke="#26261c" stroke-opacity="0.85" stroke-width="0.9"/>
<circle cx="474.8" cy="347.2" r="3.0" fill="#c2ba6f" fill-opacity="0.8" stroke="#26261c" stroke-opacity="0.85" stroke-width="0.9"/>
<circle cx="423.9" cy="353.3" r="3.0" fill="#c2ba6f" fill-opacity="0.8" stroke="#26261c" stroke-opacity="0.85" stroke-width="0.9"/>
<circle cx="422.4" cy="356.2" r="3.0" fill="#c2ba6f" fill-opacity="0.8" stroke="#26261c" stroke-opacity="0.85" stroke-width="0.9"/>
<circle cx="426.5" cy="352.5" r="3.0" fill="#c2ba6f" fill-opacity="0.8" stroke="#26261c" stroke-opacity="0.85" stroke-width="0.9"/>
<circle cx="440.7" cy="352.9" r="3.0" fill="#c2ba6f" fill-opacity="0.8" stroke="#26261c" stroke-opacity="0.85" stroke-width="0.9"/>
<circle cx="442.9" cy="355.5" r="3.0" fill="#c2ba6f" fill-opacity="0.8" stroke="#26261c" stroke-opacity="0.85" stroke-width="0.9"/>
<circle cx="453.4" cy="356.5" r="3.0" fill="#c2ba6f" fill-opacity="0.8" stroke="#26261c" stroke-opacity="0.85" stroke-width="0.9"/>
<circle cx="482.1" cy="355.6" r="3.0" fill="#c2ba6f" fill-opacity="0.8" stroke="#26261c" stroke-opacity="0.85" stroke-width="0.9"/>
<circle cx="425.3" cy="358.4" r="3.0" fill="#c2ba6f" fill-opacity="0.8" stroke="#26261c" stroke-opacity="0.85" stroke-width="0.9"/>
<circle cx="430.5" cy="358.1" r="3.0" fill="#c2ba6f" fill-opacity="0.8" stroke="#26261c" stroke-opacity="0.85" stroke-width="0.9"/>
<circle cx="434.9" cy="361.4" r="3.0" fill="#c2ba6f" fill-opacity="0.8" stroke="#26261c" stroke-opacity="0.85" stroke-width="0.9"/>
<circle cx="440.3" cy="361.1" r="3.0" fill="#c2ba6f" fill-opacity="0.8" stroke="#26261c" stroke-opacity="0.85" stroke-width="0.9"/>
<circle cx="467.5" cy="361.4" r="3.0" fill="#c2ba6f" fill-opacity="0.8" stroke="#26261c" stroke-opacity="0.85" stroke-width="0.9"/>
<circle cx="470.7" cy="361.4" r="3.0" fill="#c2ba6f" fill-opacity="0.8" stroke="#26261c" stroke-opacity="0.85" stroke-width="0.9"/>
<circle cx="481.7" cy="363.8" r="3.0" fill="#c2ba6f" fill-opacity="0.8" stroke="#26261c" stroke-opacity="0.85" stroke-width="0.9"/>
<circle cx="480.7" cy="366.3" r="3.0" fill="#c2ba6f" fill-opacity="0.8" stroke="#26261c" stroke-opacity="0.85" stroke-width="0.9"/>
<circle cx="424.3" cy="366.2" r="3.0" fill="#687f75" fill-opacity="0.8" stroke="#26261c" stroke-opacity="0.85" stroke-width="0.9"/>
<circle cx="438.5" cy="366.2" r="3.0" fill="#c2ba6f" fill-opacity="0.8" stroke="#26261c" stroke-opacity="0.85" stroke-width="0.9"/>
<circle cx="438.5" cy="369.4" r="3.0" fill="#c2ba6f" fill-opacity="0.8" stroke="#26261c" stroke-opacity="0.85" stroke-width="0.9"/>
<circle cx="429.0" cy="369.4" r="3.0" fill="#c2ba6f" fill-opacity="0.8" stroke="#26261c" stroke-opacity="0.85" stroke-width="0.9"/>
<circle cx="424.2" cy="372.3" r="3.0" fill="#c2ba6f" fill-opacity="0.8" stroke="#26261c" stroke-opacity="0.85" stroke-width="0.9"/>
<circle cx="468.2" cy="369.8" r="3.0" fill="#c2ba6f" fill-opacity="0.8" stroke="#26261c" stroke-opacity="0.85" stroke-width="0.9"/>
<circle cx="447.0" cy="374.5" r="3.0" fill="#c2ba6f" fill-opacity="0.8" stroke="#26261c" stroke-opacity="0.85" stroke-width="0.9"/>
<circle cx="460.0" cy="374.5" r="3.0" fill="#c2ba6f" fill-opacity="0.8" stroke="#26261c" stroke-opacity="0.85" stroke-width="0.9"/>
<circle cx="431.2" cy="377.5" r="3.0" fill="#c2ba6f" fill-opacity="0.8" stroke="#26261c" stroke-opacity="0.85" stroke-width="0.9"/>
<circle cx="422.7" cy="380.4" r="3.0" fill="#c2ba6f" fill-opacity="0.8" stroke="#26261c" stroke-opacity="0.85" stroke-width="0.9"/>
<circle cx="431.2" cy="388.7" r="3.0" fill="#c2ba6f" fill-opacity="0.8" stroke="#26261c" stroke-opacity="0.85" stroke-width="0.9"/>
<circle cx="459.7" cy="386.0" r="3.0" fill="#c2ba6f" fill-opacity="0.8" stroke="#26261c" stroke-opacity="0.85" stroke-width="0.9"/>
<circle cx="450.2" cy="388.9" r="3.0" fill="#c2ba6f" fill-opacity="0.8" stroke="#26261c" stroke-opacity="0.85" stroke-width="0.9"/>
<circle cx="452.4" cy="391.4" r="3.0" fill="#c2ba6f" fill-opacity="0.8" stroke="#26261c" stroke-opacity="0.85" stroke-width="0.9"/>
<circle cx="485.5" cy="385.8" r="3.0" fill="#c2ba6f" fill-opacity="0.8" stroke="#26261c" stroke-opacity="0.85" stroke-width="0.9"/>
<circle cx="473.7" cy="396.5" r="3.0" fill="#c2ba6f" fill-opacity="0.8" stroke="#26261c" stroke-opacity="0.85" stroke-width="0.9"/>
<circle cx="457.5" cy="402.6" r="3.0" fill="#c2ba6f" fill-opacity="0.8" stroke="#26261c" stroke-opacity="0.85" stroke-width="0.9"/>
<circle cx="436.5" cy="405.4" r="3.0" fill="#c2ba6f" fill-opacity="0.8" stroke="#26261c" stroke-opacity="0.85" stroke-width="0.9"/>
<circle cx="446.1" cy="407.7" r="3.0" fill="#c2ba6f" fill-opacity="0.8" stroke="#26261c" stroke-opacity="0.85" stroke-width="0.9"/>
<circle cx="472.5" cy="404.5" r="3.0" fill="#c2ba6f" fill-opacity="0.8" stroke="#26261c" stroke-opacity="0.85" stroke-width="0.9"/>
<circle cx="471.5" cy="410.7" r="3.0" fill="#c2ba6f" fill-opacity="0.8" stroke="#26261c" stroke-opacity="0.85" stroke-width="0.9"/>
<circle cx="475.1" cy="410.7" r="3.0" fill="#c2ba6f" fill-opacity="0.8" stroke="#26261c" stroke-opacity="0.85" stroke-width="0.9"/>
<circle cx="465.2" cy="424.3" r="3.0" fill="#c2ba6f" fill-opacity="0.8" stroke="#26261c" stroke-opacity="0.85" stroke-width="0.9"/>
<circle cx="430.1" cy="429.9" r="3.0" fill="#687f75" fill-opacity="0.8" stroke="#26261c" stroke-opacity="0.85" stroke-width="0.9"/>
<circle cx="424.5" cy="432.5" r="3.0" fill="#687f75" fill-opacity="0.8" stroke="#26261c" stroke-opacity="0.85" stroke-width="0.9"/>
<circle cx="424.5" cy="446.2" r="3.0" fill="#687f75" fill-opacity="0.8" stroke="#26261c" stroke-opacity="0.85" stroke-width="0.9"/>
<circle cx="480.7" cy="432.5" r="3.0" fill="#c2ba6f" fill-opacity="0.8" stroke="#26261c" stroke-opacity="0.85" stroke-width="0.9"/>
<circle cx="489.7" cy="435.2" r="3.0" fill="#c2ba6f" fill-opacity="0.8" stroke="#26261c" stroke-opacity="0.85" stroke-width="0.9"/>
<circle cx="461.3" cy="442.2" r="3.0" fill="#c2ba6f" fill-opacity="0.8" stroke="#26261c" stroke-opacity="0.85" stroke-width="0.9"/>
<circle cx="457.8" cy="443.2" r="3.0" fill="#c2ba6f" fill-opacity="0.8" stroke="#26261c" stroke-opacity="0.85" stroke-width="0.9"/>
<circle cx="466.4" cy="451.8" r="3.0" fill="#687f75" fill-opacity="0.8" stroke="#26261c" stroke-opacity="0.85" stroke-width="0.9"/>
<circle cx="479.6" cy="459.7" r="3.0" fill="#c2ba6f" fill-opacity="0.8" stroke="#26261c" stroke-opacity="0.85" stroke-width="0.9"/>
<circle cx="439.4" cy="479.2" r="3.0" fill="#687f75" fill-opacity="0.8" stroke="#26261c" stroke-opacity="0.85" stroke-width="0.9"/>
<circle cx="500.4" cy="479.3" r="3.0" fill="#687f75" fill-opacity="0.8" stroke="#26261c" stroke-opacity="0.85" stroke-width="0.9"/>
<circle cx="502.7" cy="413.9" r="3.0" fill="#c2ba6f" fill-opacity="0.8" stroke="#26261c" stroke-opacity="0.85" stroke-width="0.9"/>
<circle cx="504.9" cy="410.0" r="3.0" fill="#c2ba6f" fill-opacity="0.8" stroke="#26261c" stroke-opacity="0.85" stroke-width="0.9"/>
<circle cx="541.9" cy="347.6" r="3.0" fill="#c35f15" fill-opacity="0.8" stroke="#26261c" stroke-opacity="0.85" stroke-width="0.9"/>
<circle cx="549.5" cy="349.7" r="3.0" fill="#c2ba6f" fill-opacity="0.8" stroke="#26261c" stroke-opacity="0.85" stroke-width="0.9"/>
<circle cx="516.4" cy="354.2" r="3.0" fill="#c2ba6f" fill-opacity="0.8" stroke="#26261c" stroke-opacity="0.85" stroke-width="0.9"/>
<circle cx="491.9" cy="368.7" r="3.0" fill="#c2ba6f" fill-opacity="0.8" stroke="#26261c" stroke-opacity="0.85" stroke-width="0.9"/>
<circle cx="497.4" cy="376.7" r="3.0" fill="#c2ba6f" fill-opacity="0.8" stroke="#26261c" stroke-opacity="0.85" stroke-width="0.9"/>
<circle cx="500.4" cy="379.9" r="3.0" fill="#c2ba6f" fill-opacity="0.8" stroke="#26261c" stroke-opacity="0.85" stroke-width="0.9"/>
<circle cx="515.4" cy="385.6" r="3.0" fill="#c2ba6f" fill-opacity="0.8" stroke="#26261c" stroke-opacity="0.85" stroke-width="0.9"/>
<circle cx="578.3" cy="383.4" r="3.0" fill="#c2ba6f" fill-opacity="0.8" stroke="#26261c" stroke-opacity="0.85" stroke-width="0.9"/>
<circle cx="522.5" cy="394.2" r="3.0" fill="#c35f15" fill-opacity="0.8" stroke="#26261c" stroke-opacity="0.85" stroke-width="0.9"/>
<circle cx="519.4" cy="397.5" r="3.0" fill="#c2ba6f" fill-opacity="0.8" stroke="#26261c" stroke-opacity="0.85" stroke-width="0.9"/>
<circle cx="534.6" cy="397.0" r="3.0" fill="#c2ba6f" fill-opacity="0.8" stroke="#26261c" stroke-opacity="0.85" stroke-width="0.9"/>
<circle cx="524.8" cy="402.3" r="3.0" fill="#c2ba6f" fill-opacity="0.8" stroke="#26261c" stroke-opacity="0.85" stroke-width="0.9"/>
<circle cx="498.4" cy="401.9" r="3.0" fill="#c2ba6f" fill-opacity="0.8" stroke="#26261c" stroke-opacity="0.85" stroke-width="0.9"/>
<circle cx="616.5" cy="399.5" r="3.0" fill="#c2ba6f" fill-opacity="0.8" stroke="#26261c" stroke-opacity="0.85" stroke-width="0.9"/>
<circle cx="521.9" cy="404.7" r="3.0" fill="#c2ba6f" fill-opacity="0.8" stroke="#26261c" stroke-opacity="0.85" stroke-width="0.9"/>
<circle cx="512.7" cy="404.9" r="3.0" fill="#c2ba6f" fill-opacity="0.8" stroke="#26261c" stroke-opacity="0.85" stroke-width="0.9"/>
<circle cx="573.0" cy="410.4" r="3.0" fill="#c2ba6f" fill-opacity="0.8" stroke="#26261c" stroke-opacity="0.85" stroke-width="0.9"/>
<circle cx="560.1" cy="412.5" r="3.0" fill="#c2ba6f" fill-opacity="0.8" stroke="#26261c" stroke-opacity="0.85" stroke-width="0.9"/>
<circle cx="590.0" cy="428.4" r="3.0" fill="#c2ba6f" fill-opacity="0.8" stroke="#26261c" stroke-opacity="0.85" stroke-width="0.9"/>
<circle cx="571.6" cy="437.0" r="3.0" fill="#c2ba6f" fill-opacity="0.8" stroke="#26261c" stroke-opacity="0.85" stroke-width="0.9"/>
<circle cx="530.5" cy="435.4" r="3.0" fill="#c2ba6f" fill-opacity="0.8" stroke="#26261c" stroke-opacity="0.85" stroke-width="0.9"/>
<circle cx="520.5" cy="442.1" r="3.0" fill="#c2ba6f" fill-opacity="0.8" stroke="#26261c" stroke-opacity="0.85" stroke-width="0.9"/>
<circle cx="596.2" cy="474.5" r="3.0" fill="#c2ba6f" fill-opacity="0.8" stroke="#26261c" stroke-opacity="0.85" stroke-width="0.9"/>
<circle cx="521.7" cy="490.8" r="3.0" fill="#c2ba6f" fill-opacity="0.8" stroke="#26261c" stroke-opacity="0.85" stroke-width="0.9"/>
<circle cx="561.1" cy="492.2" r="3.0" fill="#c2ba6f" fill-opacity="0.8" stroke="#26261c" stroke-opacity="0.85" stroke-width="0.9"/>
<circle cx="579.6" cy="489.1" r="3.0" fill="#c2ba6f" fill-opacity="0.8" stroke="#26261c" stroke-opacity="0.85" stroke-width="0.9"/>
<circle cx="619.4" cy="484.0" r="3.0" fill="#c2ba6f" fill-opacity="0.8" stroke="#26261c" stroke-opacity="0.85" stroke-width="0.9"/>
<circle cx="617.4" cy="489.6" r="3.0" fill="#c2ba6f" fill-opacity="0.8" stroke="#26261c" stroke-opacity="0.85" stroke-width="0.9"/>
<circle cx="623.8" cy="438.4" r="3.0" fill="#c2ba6f" fill-opacity="0.8" stroke="#26261c" stroke-opacity="0.85" stroke-width="0.9"/>
<circle cx="635.7" cy="455.3" r="3.0" fill="#c2ba6f" fill-opacity="0.8" stroke="#26261c" stroke-opacity="0.85" stroke-width="0.9"/>
<circle cx="636.7" cy="467.6" r="3.0" fill="#c2ba6f" fill-opacity="0.8" stroke="#26261c" stroke-opacity="0.85" stroke-width="0.9"/>
<circle cx="645.4" cy="475.4" r="3.0" fill="#c2ba6f" fill-opacity="0.8" stroke="#26261c" stroke-opacity="0.85" stroke-width="0.9"/>
<circle cx="656.2" cy="498.1" r="3.0" fill="#c2ba6f" fill-opacity="0.8" stroke="#26261c" stroke-opacity="0.85" stroke-width="0.9"/>
<circle cx="651.5" cy="500.2" r="3.0" fill="#c2ba6f" fill-opacity="0.8" stroke="#26261c" stroke-opacity="0.85" stroke-width="0.9"/>
<path d="M405.6 331.2 L409.8 335.4 L414.1 339.4 L418.3 343.3 L422.6 347.1 L426.8 350.9 L431.0 354.5 L435.3 358.1 L439.5 361.6 L443.8 365.0 L448.0 368.3 L452.2 371.5 L456.5 374.6 L460.7 377.7 L465.0 380.7 L469.2 383.6 L473.5 386.5 L477.7 389.3 L481.9 392.0 L486.2 394.7 L490.4 397.2 L494.7 399.8 L498.9 402.2 L503.1 404.6 L507.4 407.0 L511.6 409.2 L515.9 411.5 L520.1 413.6 L524.3 415.8 L528.6 417.8 L532.8 419.8 L537.1 421.8 L541.3 423.7 L545.5 425.6 L549.8 427.4 L554.0 429.2 L558.3 430.9 L562.5 432.6 L566.7 434.2 L571.0 435.8 L575.2 437.4 L579.5 438.9 L583.7 440.4 L587.9 441.8 L592.2 443.2 L596.4 444.6 L600.7 446.0 L604.9 447.3 L609.2 448.5 L613.4 449.8 L617.6 451.0 L621.9 452.1 L626.1 453.3 L630.4 454.4 L634.6 455.5 L638.8 456.6 L643.1 457.6 L647.3 458.6 L651.6 459.6 L655.8 460.5" fill="none" stroke="#111" stroke-width="1.25"/>
<path d="M405.3 299.1 L409.5 305.4 L413.8 311.5 L418.0 317.3 L422.3 322.9 L426.5 328.3 L430.8 333.4 L435.0 338.4 L439.3 343.1 L443.5 347.6 L447.8 352.0 L452.0 356.2 L456.2 360.2 L460.5 364.1 L464.7 367.8 L469.0 371.3 L473.2 374.7 L477.5 378.0 L481.7 381.2 L486.0 384.2 L490.2 387.1 L494.5 389.9 L498.7 392.6 L503.0 395.2 L507.2 397.7 L511.4 400.1 L515.7 402.4 L519.9 404.6 L524.2 406.8 L528.4 408.9 L532.7 410.9 L536.9 412.8 L541.2 414.7 L545.4 416.5 L549.7 418.2 L553.9 419.9 L558.1 421.5 L562.4 423.1 L566.6 424.6 L570.9 426.1 L575.1 427.5 L579.4 428.9 L583.6 430.3 L587.9 431.6 L592.1 432.9 L596.4 434.2 L600.6 435.4 L604.9 436.6 L609.1 437.8 L613.3 438.9 L617.6 440.1 L621.8 441.2 L626.1 442.3 L630.3 443.4 L634.6 444.4 L638.8 445.5 L643.1 446.5 L647.3 447.5 L651.6 448.6 L655.8 449.6" fill="none" stroke="#111" stroke-width="1.7" stroke-dasharray="8.3 5"/>
<path d="M405.6 357.9 L409.9 360.2 L414.1 362.6 L418.4 365.0 L422.6 367.5 L426.9 370.1 L431.1 372.7 L435.4 375.4 L439.6 378.1 L443.9 380.8 L448.1 383.5 L452.4 386.3 L456.7 389.0 L460.9 391.8 L465.2 394.5 L469.4 397.2 L473.7 399.9 L477.9 402.6 L482.2 405.3 L486.4 407.9 L490.7 410.5 L494.9 413.1 L499.2 415.6 L503.4 418.1 L507.7 420.5 L512.0 422.9 L516.2 425.2 L520.5 427.5 L524.7 429.7 L529.0 431.9 L533.2 434.1 L537.5 436.2 L541.7 438.2 L546.0 440.2 L550.2 442.1 L554.5 444.0 L558.8 445.8 L563.0 447.6 L567.3 449.3 L571.5 451.0 L575.8 452.6 L580.0 454.2 L584.3 455.7 L588.5 457.2 L592.8 458.6 L597.0 460.0 L601.3 461.3 L605.5 462.6 L609.8 463.8 L614.1 465.0 L618.3 466.2 L622.6 467.3 L626.8 468.4 L631.1 469.5 L635.3 470.5 L639.6 471.4 L643.8 472.4 L648.1 473.3 L652.3 474.1 L656.6 475.0" fill="none" stroke="#111" stroke-width="1.7" stroke-dasharray="8.3 5"/>
<text x="395.0" y="285.2" font-size="13.2" font-family="Liberation Sans, sans-serif" font-weight="700" fill="#111">d</text>
<text x="547.6" y="549.2" font-size="15.3" text-anchor="middle" fill="#0d0d0d">N concentration (%)</text>
<text transform="translate(355.3,383.4) rotate(-90)" font-size="15.3" text-anchor="middle" fill="#0d0d0d">δ<tspan font-size="10.3" dy="-4.2" dx="0.3">15</tspan><tspan dy="4.2" dx="0.4">N (‰)</tspan></text>
<circle cx="281.2" cy="442.0" r="0.7" fill="#111"/>
<rect x="575.9" y="12.2" width="11.9" height="38.7" fill="#f1f1f1"/>
<circle cx="581.7" cy="18.55" r="2.95" fill="#9bafa9" stroke="#5a5a52" stroke-width="0.7"/>
<text x="591.8" y="23.5" font-size="13.9" fill="#0d0d0d">Asia-Pacific</text>
<circle cx="581.7" cy="31.65" r="2.95" fill="#dfa06c" stroke="#5a5a52" stroke-width="0.7"/>
<text x="591.8" y="36.5" font-size="13.9" fill="#0d0d0d">Africa</text>
<circle cx="581.7" cy="44.75" r="2.95" fill="#dcd7a6" stroke="#5a5a52" stroke-width="0.7"/>
<text x="591.8" y="49.6" font-size="13.9" fill="#0d0d0d">Neotropics</text>
</svg>
</body></html>
